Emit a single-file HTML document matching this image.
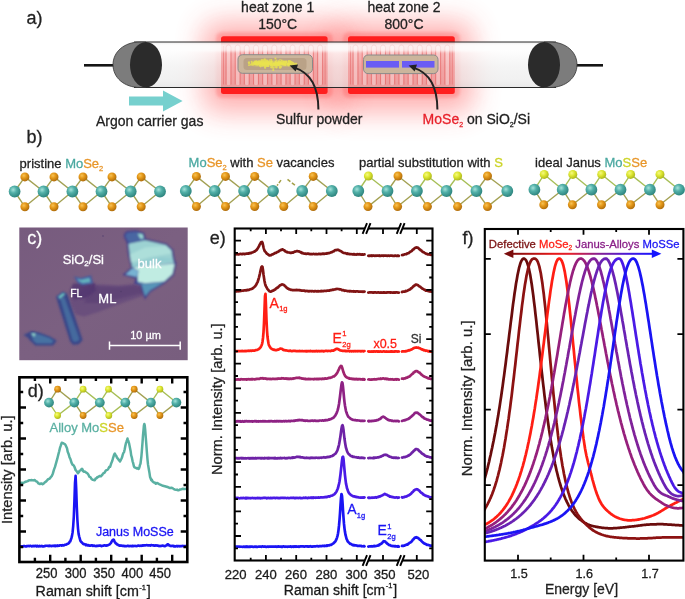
<!DOCTYPE html>
<html><head><meta charset="utf-8"><title>Janus MoSSe figure</title>
<style>
html,body{margin:0;padding:0;background:#fff;}
body{width:685px;height:599px;overflow:hidden;}
svg{display:block;font-family:'Liberation Sans', Arial, sans-serif;}
text{stroke-width:0.28px;}
</style></head><body>
<svg width="685" height="599" viewBox="0 0 685 599">
<defs>
<filter id="glow" x="-60%" y="-90%" width="220%" height="280%"><feGaussianBlur stdDeviation="14"/></filter>
<filter id="b08" x="-20%" y="-20%" width="140%" height="140%"><feGaussianBlur stdDeviation="1.0"/></filter>
<filter id="b1" x="-20%" y="-20%" width="140%" height="140%"><feGaussianBlur stdDeviation="0.8"/></filter>
<filter id="b05" x="-20%" y="-20%" width="140%" height="140%"><feGaussianBlur stdDeviation="0.5"/></filter>
<filter id="b2" x="-20%" y="-20%" width="140%" height="140%"><feGaussianBlur stdDeviation="1.6"/></filter>
<radialGradient id="gMo" cx="0.38" cy="0.35" r="0.7"><stop offset="0" stop-color="#a4e2da"/><stop offset="0.4" stop-color="#52b0a8"/><stop offset="1" stop-color="#2a807a"/></radialGradient>
<radialGradient id="gSe" cx="0.38" cy="0.35" r="0.7"><stop offset="0" stop-color="#f6c256"/><stop offset="0.4" stop-color="#e69a1a"/><stop offset="1" stop-color="#aa680a"/></radialGradient>
<radialGradient id="gS" cx="0.38" cy="0.35" r="0.7"><stop offset="0" stop-color="#f6fa80"/><stop offset="0.45" stop-color="#dce630"/><stop offset="1" stop-color="#a8b21a"/></radialGradient>
<linearGradient id="gTube" x1="0" y1="0" x2="0" y2="1"><stop offset="0" stop-color="#e2e2e2" stop-opacity="0.8"/><stop offset="0.08" stop-color="#f8f8f8" stop-opacity="0.86"/><stop offset="0.25" stop-color="#fbfbfb" stop-opacity="0.78"/><stop offset="0.55" stop-color="#f0f0f0" stop-opacity="0.7"/><stop offset="0.85" stop-color="#eaeaea" stop-opacity="0.68"/><stop offset="1" stop-color="#e0e0e0" stop-opacity="0.7"/></linearGradient>
<linearGradient id="gArrow" x1="0" y1="0" x2="1" y2="0"><stop offset="0" stop-color="#7a0c0c"/><stop offset="0.3" stop-color="#e81818"/><stop offset="0.42" stop-color="#e02030"/><stop offset="0.6" stop-color="#8a2090"/><stop offset="0.85" stop-color="#3a18e8"/><stop offset="1" stop-color="#1414ff"/></linearGradient>
<clipPath id="clipC"><rect x="19.3" y="227.5" width="168.39999999999998" height="132.7"/></clipPath><linearGradient id="gBg" x1="0" y1="0" x2="1" y2="1"><stop offset="0" stop-color="#775b7e"/><stop offset="0.5" stop-color="#7b6081"/><stop offset="1" stop-color="#785e7e"/></linearGradient><clipPath id="clipF"><rect x="484.8" y="229.0" width="198.6" height="331.6"/></clipPath></defs>
<rect width="685" height="599" fill="#fff"/>
<text x="26.6" y="23.7" font-size="18" fill="#222" stroke="#222" text-anchor="start" >a)</text>
<rect x="203" y="22" width="142.60000000000002" height="90" rx="14" fill="#ff3a3a" opacity="0.4" filter="url(#glow)"/>
<rect x="216" y="32" width="116.60000000000002" height="66" rx="6" fill="#ff2a2a" opacity="0.22" filter="url(#b2)"/>
<rect x="330" y="22" width="142.8" height="90" rx="14" fill="#ff3a3a" opacity="0.4" filter="url(#glow)"/>
<rect x="343" y="32" width="116.80000000000001" height="66" rx="6" fill="#ff2a2a" opacity="0.22" filter="url(#b2)"/>
<rect x="221" y="36.2" width="106.6" height="57.8" rx="2.5" fill="#ff1e1e"/>
<rect x="348" y="36.2" width="106.8" height="57.8" rx="2.5" fill="#ff1e1e"/>
<line x1="84" y1="65.3" x2="114" y2="65.3" stroke="#151515" stroke-width="2.6"/>
<line x1="576" y1="65.3" x2="603" y2="65.3" stroke="#151515" stroke-width="2.6"/>
<rect x="140" y="42.0" width="410" height="45.5" fill="url(#gTube)"/>
<rect x="221" y="42.0" width="106.6" height="45.5" fill="#ee8888" opacity="0.3"/>
<line x1="228.5" y1="47.5" x2="228.5" y2="83.5" stroke="#fff" stroke-width="3.6" stroke-linecap="round" opacity="0.3"/>
<path d="M226.0 84.5 V47.5 a2.5 2.5 0 0 1 5 0 V84.5" stroke="#e25858" stroke-width="0.9" fill="none" opacity="0.6"/>
<line x1="237.7" y1="47.5" x2="237.7" y2="83.5" stroke="#fff" stroke-width="3.6" stroke-linecap="round" opacity="0.3"/>
<path d="M235.2 84.5 V47.5 a2.5 2.5 0 0 1 5 0 V84.5" stroke="#e25858" stroke-width="0.9" fill="none" opacity="0.6"/>
<line x1="246.8" y1="47.5" x2="246.8" y2="83.5" stroke="#fff" stroke-width="3.6" stroke-linecap="round" opacity="0.3"/>
<path d="M244.3 84.5 V47.5 a2.5 2.5 0 0 1 5 0 V84.5" stroke="#e25858" stroke-width="0.9" fill="none" opacity="0.6"/>
<line x1="256.0" y1="47.5" x2="256.0" y2="83.5" stroke="#fff" stroke-width="3.6" stroke-linecap="round" opacity="0.3"/>
<path d="M253.5 84.5 V47.5 a2.5 2.5 0 0 1 5 0 V84.5" stroke="#e25858" stroke-width="0.9" fill="none" opacity="0.6"/>
<line x1="265.1" y1="47.5" x2="265.1" y2="83.5" stroke="#fff" stroke-width="3.6" stroke-linecap="round" opacity="0.3"/>
<path d="M262.6 84.5 V47.5 a2.5 2.5 0 0 1 5 0 V84.5" stroke="#e25858" stroke-width="0.9" fill="none" opacity="0.6"/>
<line x1="274.3" y1="47.5" x2="274.3" y2="83.5" stroke="#fff" stroke-width="3.6" stroke-linecap="round" opacity="0.3"/>
<path d="M271.8 84.5 V47.5 a2.5 2.5 0 0 1 5 0 V84.5" stroke="#e25858" stroke-width="0.9" fill="none" opacity="0.6"/>
<line x1="283.5" y1="47.5" x2="283.5" y2="83.5" stroke="#fff" stroke-width="3.6" stroke-linecap="round" opacity="0.3"/>
<path d="M281.0 84.5 V47.5 a2.5 2.5 0 0 1 5 0 V84.5" stroke="#e25858" stroke-width="0.9" fill="none" opacity="0.6"/>
<line x1="292.6" y1="47.5" x2="292.6" y2="83.5" stroke="#fff" stroke-width="3.6" stroke-linecap="round" opacity="0.3"/>
<path d="M290.1 84.5 V47.5 a2.5 2.5 0 0 1 5 0 V84.5" stroke="#e25858" stroke-width="0.9" fill="none" opacity="0.6"/>
<line x1="301.8" y1="47.5" x2="301.8" y2="83.5" stroke="#fff" stroke-width="3.6" stroke-linecap="round" opacity="0.3"/>
<path d="M299.3 84.5 V47.5 a2.5 2.5 0 0 1 5 0 V84.5" stroke="#e25858" stroke-width="0.9" fill="none" opacity="0.6"/>
<line x1="310.9" y1="47.5" x2="310.9" y2="83.5" stroke="#fff" stroke-width="3.6" stroke-linecap="round" opacity="0.3"/>
<path d="M308.4 84.5 V47.5 a2.5 2.5 0 0 1 5 0 V84.5" stroke="#e25858" stroke-width="0.9" fill="none" opacity="0.6"/>
<line x1="320.1" y1="47.5" x2="320.1" y2="83.5" stroke="#fff" stroke-width="3.6" stroke-linecap="round" opacity="0.3"/>
<path d="M317.6 84.5 V47.5 a2.5 2.5 0 0 1 5 0 V84.5" stroke="#e25858" stroke-width="0.9" fill="none" opacity="0.6"/>
<path d="M223.5 46 V84.5 M325.1 46 V84.5" stroke="#e25858" stroke-width="0.9" fill="none" opacity="0.5"/>
<rect x="348" y="42.0" width="106.8" height="45.5" fill="#ee8888" opacity="0.3"/>
<line x1="355.5" y1="47.5" x2="355.5" y2="83.5" stroke="#fff" stroke-width="3.6" stroke-linecap="round" opacity="0.3"/>
<path d="M353.0 84.5 V47.5 a2.5 2.5 0 0 1 5 0 V84.5" stroke="#e25858" stroke-width="0.9" fill="none" opacity="0.6"/>
<line x1="364.7" y1="47.5" x2="364.7" y2="83.5" stroke="#fff" stroke-width="3.6" stroke-linecap="round" opacity="0.3"/>
<path d="M362.2 84.5 V47.5 a2.5 2.5 0 0 1 5 0 V84.5" stroke="#e25858" stroke-width="0.9" fill="none" opacity="0.6"/>
<line x1="373.9" y1="47.5" x2="373.9" y2="83.5" stroke="#fff" stroke-width="3.6" stroke-linecap="round" opacity="0.3"/>
<path d="M371.4 84.5 V47.5 a2.5 2.5 0 0 1 5 0 V84.5" stroke="#e25858" stroke-width="0.9" fill="none" opacity="0.6"/>
<line x1="383.0" y1="47.5" x2="383.0" y2="83.5" stroke="#fff" stroke-width="3.6" stroke-linecap="round" opacity="0.3"/>
<path d="M380.5 84.5 V47.5 a2.5 2.5 0 0 1 5 0 V84.5" stroke="#e25858" stroke-width="0.9" fill="none" opacity="0.6"/>
<line x1="392.2" y1="47.5" x2="392.2" y2="83.5" stroke="#fff" stroke-width="3.6" stroke-linecap="round" opacity="0.3"/>
<path d="M389.7 84.5 V47.5 a2.5 2.5 0 0 1 5 0 V84.5" stroke="#e25858" stroke-width="0.9" fill="none" opacity="0.6"/>
<line x1="401.4" y1="47.5" x2="401.4" y2="83.5" stroke="#fff" stroke-width="3.6" stroke-linecap="round" opacity="0.3"/>
<path d="M398.9 84.5 V47.5 a2.5 2.5 0 0 1 5 0 V84.5" stroke="#e25858" stroke-width="0.9" fill="none" opacity="0.6"/>
<line x1="410.6" y1="47.5" x2="410.6" y2="83.5" stroke="#fff" stroke-width="3.6" stroke-linecap="round" opacity="0.3"/>
<path d="M408.1 84.5 V47.5 a2.5 2.5 0 0 1 5 0 V84.5" stroke="#e25858" stroke-width="0.9" fill="none" opacity="0.6"/>
<line x1="419.8" y1="47.5" x2="419.8" y2="83.5" stroke="#fff" stroke-width="3.6" stroke-linecap="round" opacity="0.3"/>
<path d="M417.3 84.5 V47.5 a2.5 2.5 0 0 1 5 0 V84.5" stroke="#e25858" stroke-width="0.9" fill="none" opacity="0.6"/>
<line x1="428.9" y1="47.5" x2="428.9" y2="83.5" stroke="#fff" stroke-width="3.6" stroke-linecap="round" opacity="0.3"/>
<path d="M426.4 84.5 V47.5 a2.5 2.5 0 0 1 5 0 V84.5" stroke="#e25858" stroke-width="0.9" fill="none" opacity="0.6"/>
<line x1="438.1" y1="47.5" x2="438.1" y2="83.5" stroke="#fff" stroke-width="3.6" stroke-linecap="round" opacity="0.3"/>
<path d="M435.6 84.5 V47.5 a2.5 2.5 0 0 1 5 0 V84.5" stroke="#e25858" stroke-width="0.9" fill="none" opacity="0.6"/>
<line x1="447.3" y1="47.5" x2="447.3" y2="83.5" stroke="#fff" stroke-width="3.6" stroke-linecap="round" opacity="0.3"/>
<path d="M444.8 84.5 V47.5 a2.5 2.5 0 0 1 5 0 V84.5" stroke="#e25858" stroke-width="0.9" fill="none" opacity="0.6"/>
<path d="M350.5 46 V84.5 M452.3 46 V84.5" stroke="#e25858" stroke-width="0.9" fill="none" opacity="0.5"/>
<rect x="150" y="43.4" width="390" height="8.2" fill="#fff" opacity="0.72" filter="url(#b1)"/>
<line x1="134" y1="42.0" x2="556" y2="42.0" stroke="#2a2a2a" stroke-width="1"/>
<line x1="134" y1="87.5" x2="556" y2="87.5" stroke="#2a2a2a" stroke-width="1"/>
<path d="M146 42.0 L140 42.0 C124 42.0 113 52 113 64.7 C113 77.5 124 87.5 140 87.5 L146 87.5 Z" fill="#7c7c7c" stroke="#333" stroke-width="0.8"/>
<ellipse cx="146" cy="64.7" rx="16" ry="22.8" fill="#2b2b2b"/>
<path d="M544 42.0 L550 42.0 C566 42.0 577 52 577 64.7 C577 77.5 566 87.5 550 87.5 L544 87.5 Z" fill="#7c7c7c" stroke="#333" stroke-width="0.8"/>
<ellipse cx="544" cy="64.7" rx="16" ry="22.8" fill="#2b2b2b"/>
<rect x="238" y="54.7" width="74.5" height="18.6" rx="4.5" fill="#cbb59c" stroke="#8a8a8a" stroke-width="1"/>
<rect x="243.5" y="58" width="63" height="12" rx="3.5" fill="#b59d82" opacity="0.8"/>
<g fill="#f2ee44" opacity="0.7" filter="url(#b05)"><circle cx="260.4" cy="64.8" r="0.7"/><circle cx="278.7" cy="65.1" r="1.2"/><circle cx="285.2" cy="64.2" r="1.1"/><circle cx="274.4" cy="65.8" r="0.8"/><circle cx="257.6" cy="64.3" r="1.2"/><circle cx="276.7" cy="65.1" r="1.2"/><circle cx="258.5" cy="61.4" r="0.8"/><circle cx="259.5" cy="62.0" r="1.2"/><circle cx="288.7" cy="65.0" r="1.1"/><circle cx="279.8" cy="62.6" r="0.9"/><circle cx="253.9" cy="63.6" r="1.3"/><circle cx="281.2" cy="62.2" r="0.8"/><circle cx="290.0" cy="61.4" r="1.2"/><circle cx="262.0" cy="62.0" r="1.0"/><circle cx="269.0" cy="63.5" r="0.7"/><circle cx="265.2" cy="66.4" r="0.6"/><circle cx="252.0" cy="63.0" r="1.0"/><circle cx="265.6" cy="62.1" r="1.3"/><circle cx="258.6" cy="63.8" r="0.9"/><circle cx="276.6" cy="65.9" r="0.8"/><circle cx="265.7" cy="63.6" r="1.0"/><circle cx="262.3" cy="64.2" r="0.6"/><circle cx="260.1" cy="63.2" r="1.1"/><circle cx="265.9" cy="62.8" r="0.8"/><circle cx="257.8" cy="63.2" r="1.1"/><circle cx="272.8" cy="67.3" r="1.1"/><circle cx="292.2" cy="61.9" r="0.6"/><circle cx="265.1" cy="67.7" r="1.1"/><circle cx="268.1" cy="65.9" r="1.2"/><circle cx="266.7" cy="63.3" r="0.9"/><circle cx="256.0" cy="64.4" r="0.9"/><circle cx="281.6" cy="63.3" r="0.6"/><circle cx="252.0" cy="64.5" r="0.9"/><circle cx="288.8" cy="63.5" r="1.3"/><circle cx="268.7" cy="64.4" r="0.7"/><circle cx="275.5" cy="63.8" r="0.7"/><circle cx="279.8" cy="63.9" r="0.9"/><circle cx="274.6" cy="63.6" r="0.7"/><circle cx="273.3" cy="70.0" r="1.1"/><circle cx="249.0" cy="65.2" r="0.9"/><circle cx="260.6" cy="63.3" r="0.9"/><circle cx="273.6" cy="63.6" r="1.2"/><circle cx="271.9" cy="67.6" r="0.6"/><circle cx="271.8" cy="65.0" r="0.7"/><circle cx="260.2" cy="64.1" r="0.6"/><circle cx="267.6" cy="65.6" r="1.3"/><circle cx="267.7" cy="62.6" r="1.2"/><circle cx="261.0" cy="61.5" r="1.1"/><circle cx="271.7" cy="64.7" r="1.2"/><circle cx="276.2" cy="66.8" r="0.8"/><circle cx="278.9" cy="61.4" r="1.2"/><circle cx="259.4" cy="61.6" r="1.0"/><circle cx="278.8" cy="63.1" r="1.2"/><circle cx="264.0" cy="64.2" r="1.3"/><circle cx="292.3" cy="63.5" r="1.1"/><circle cx="294.6" cy="64.2" r="0.7"/><circle cx="292.6" cy="63.4" r="0.7"/><circle cx="268.6" cy="62.1" r="1.1"/><circle cx="290.8" cy="62.5" r="0.8"/><circle cx="296.0" cy="63.6" r="0.6"/><circle cx="288.6" cy="65.3" r="1.1"/><circle cx="285.3" cy="64.8" r="1.2"/><circle cx="258.9" cy="62.4" r="1.1"/><circle cx="260.7" cy="66.3" r="1.1"/><circle cx="270.7" cy="63.2" r="0.6"/><circle cx="271.6" cy="61.8" r="1.2"/><circle cx="276.8" cy="62.5" r="0.7"/><circle cx="259.8" cy="65.4" r="1.0"/><circle cx="250.5" cy="64.6" r="0.7"/><circle cx="254.4" cy="62.5" r="1.2"/><circle cx="263.7" cy="63.2" r="0.8"/><circle cx="249.0" cy="63.8" r="0.7"/><circle cx="255.0" cy="61.7" r="1.0"/><circle cx="256.2" cy="61.3" r="1.1"/><circle cx="252.9" cy="64.5" r="1.2"/><circle cx="275.1" cy="65.0" r="1.2"/><circle cx="268.6" cy="63.9" r="1.2"/><circle cx="265.6" cy="64.0" r="0.9"/><circle cx="264.9" cy="64.4" r="1.0"/><circle cx="286.3" cy="62.4" r="0.6"/><circle cx="263.7" cy="61.9" r="1.1"/><circle cx="268.5" cy="62.9" r="0.8"/><circle cx="287.3" cy="63.7" r="0.8"/><circle cx="275.4" cy="58.5" r="1.0"/><circle cx="279.8" cy="62.5" r="1.2"/><circle cx="265.9" cy="60.0" r="0.8"/><circle cx="288.2" cy="64.2" r="1.2"/><circle cx="263.0" cy="62.5" r="0.7"/><circle cx="283.9" cy="62.2" r="0.7"/><circle cx="284.3" cy="64.3" r="1.2"/><circle cx="257.8" cy="64.0" r="1.2"/><circle cx="262.0" cy="65.0" r="0.8"/><circle cx="277.3" cy="65.0" r="1.3"/><circle cx="278.2" cy="64.6" r="0.8"/><circle cx="263.2" cy="65.6" r="0.6"/><circle cx="296.0" cy="63.9" r="1.2"/><circle cx="285.2" cy="64.8" r="0.7"/><circle cx="249.0" cy="62.6" r="1.0"/><circle cx="291.3" cy="62.9" r="1.1"/><circle cx="277.4" cy="63.4" r="1.1"/><circle cx="279.7" cy="63.5" r="1.2"/><circle cx="256.7" cy="62.6" r="0.9"/><circle cx="276.4" cy="67.3" r="1.2"/><circle cx="269.3" cy="62.1" r="0.8"/><circle cx="264.4" cy="59.8" r="1.2"/><circle cx="249.0" cy="62.8" r="1.2"/><circle cx="262.5" cy="64.5" r="0.9"/><circle cx="279.0" cy="63.7" r="1.0"/><circle cx="280.5" cy="62.5" r="1.3"/><circle cx="265.1" cy="62.9" r="0.6"/><circle cx="292.8" cy="63.2" r="1.3"/><circle cx="285.1" cy="62.7" r="0.8"/><circle cx="254.0" cy="63.6" r="1.2"/><circle cx="279.8" cy="65.8" r="0.7"/><circle cx="260.5" cy="62.0" r="0.8"/><circle cx="278.2" cy="63.3" r="1.2"/><circle cx="280.0" cy="59.8" r="0.8"/><circle cx="263.9" cy="62.7" r="0.7"/><circle cx="251.4" cy="63.5" r="0.8"/><circle cx="274.8" cy="64.0" r="1.3"/><circle cx="262.7" cy="65.4" r="1.1"/><circle cx="261.1" cy="61.6" r="1.2"/><circle cx="281.7" cy="60.5" r="1.0"/><circle cx="265.9" cy="61.1" r="1.0"/><circle cx="272.1" cy="65.7" r="0.9"/><circle cx="289.5" cy="64.3" r="1.2"/><circle cx="261.3" cy="64.0" r="0.9"/><circle cx="263.0" cy="60.8" r="0.8"/><circle cx="267.0" cy="63.2" r="1.2"/><circle cx="273.2" cy="68.3" r="0.7"/><circle cx="256.9" cy="64.0" r="1.2"/><circle cx="275.6" cy="62.5" r="1.0"/><circle cx="271.0" cy="63.4" r="1.2"/><circle cx="265.1" cy="66.1" r="1.2"/><circle cx="291.2" cy="63.6" r="0.9"/><circle cx="284.0" cy="61.4" r="1.0"/><circle cx="254.7" cy="61.6" r="0.8"/><circle cx="255.5" cy="62.0" r="1.0"/><circle cx="251.6" cy="61.7" r="1.0"/><circle cx="271.2" cy="67.3" r="1.1"/><circle cx="263.5" cy="65.3" r="0.8"/><circle cx="262.6" cy="65.2" r="1.2"/><circle cx="288.9" cy="61.4" r="1.1"/><circle cx="267.3" cy="61.4" r="1.0"/><circle cx="293.4" cy="63.3" r="1.1"/><circle cx="275.6" cy="61.4" r="1.0"/><circle cx="261.0" cy="63.6" r="0.7"/><circle cx="289.3" cy="64.5" r="1.2"/><circle cx="280.7" cy="66.8" r="1.2"/><circle cx="292.4" cy="63.6" r="1.2"/><circle cx="277.4" cy="63.6" r="1.0"/><circle cx="289.8" cy="63.8" r="0.6"/><circle cx="271.0" cy="64.7" r="1.2"/><circle cx="280.2" cy="63.6" r="0.8"/><circle cx="267.1" cy="60.5" r="1.0"/><circle cx="283.1" cy="63.9" r="1.3"/><circle cx="283.2" cy="64.4" r="1.1"/><circle cx="265.0" cy="64.2" r="0.9"/><circle cx="257.7" cy="61.6" r="0.6"/><circle cx="291.3" cy="61.9" r="0.8"/><circle cx="283.3" cy="61.9" r="1.2"/><circle cx="280.5" cy="62.7" r="0.8"/><circle cx="272.5" cy="66.0" r="0.6"/><circle cx="271.2" cy="65.1" r="1.2"/><circle cx="255.8" cy="63.6" r="1.3"/><circle cx="267.3" cy="64.0" r="0.7"/><circle cx="291.1" cy="64.0" r="1.1"/><circle cx="282.0" cy="62.5" r="0.7"/><circle cx="265.0" cy="58.9" r="0.7"/><circle cx="281.2" cy="63.7" r="0.7"/><circle cx="292.7" cy="65.7" r="0.8"/><circle cx="257.3" cy="62.8" r="1.2"/><circle cx="253.3" cy="64.0" r="1.1"/><circle cx="266.3" cy="66.4" r="0.7"/><circle cx="259.1" cy="64.0" r="0.6"/><circle cx="267.6" cy="65.0" r="1.3"/><circle cx="276.7" cy="60.2" r="0.7"/><circle cx="296.0" cy="64.1" r="1.3"/><circle cx="280.1" cy="67.5" r="1.3"/><circle cx="294.3" cy="64.4" r="1.1"/><circle cx="279.4" cy="64.0" r="0.7"/><circle cx="267.7" cy="64.9" r="1.0"/><circle cx="273.8" cy="65.2" r="0.9"/><circle cx="271.2" cy="60.0" r="1.1"/><circle cx="251.7" cy="64.0" r="0.8"/><circle cx="278.3" cy="62.6" r="1.0"/><circle cx="265.1" cy="63.1" r="0.9"/><circle cx="265.1" cy="59.8" r="0.7"/><circle cx="265.3" cy="64.7" r="0.6"/><circle cx="271.1" cy="64.9" r="1.1"/><circle cx="291.3" cy="65.6" r="0.9"/><circle cx="281.1" cy="63.9" r="1.1"/><circle cx="267.3" cy="64.7" r="0.9"/><circle cx="280.2" cy="62.5" r="0.7"/><circle cx="251.3" cy="64.5" r="1.1"/><circle cx="270.7" cy="61.7" r="0.7"/><circle cx="263.0" cy="60.5" r="0.9"/><circle cx="263.6" cy="65.5" r="0.7"/><circle cx="277.1" cy="63.3" r="1.0"/><circle cx="257.7" cy="62.4" r="0.6"/><circle cx="269.2" cy="63.9" r="0.6"/><circle cx="266.3" cy="64.2" r="0.9"/><circle cx="263.8" cy="64.8" r="1.0"/><circle cx="276.9" cy="65.0" r="1.1"/><circle cx="274.0" cy="67.7" r="0.8"/><circle cx="265.4" cy="62.6" r="1.0"/><circle cx="266.1" cy="65.4" r="1.2"/><circle cx="276.1" cy="65.5" r="0.7"/><circle cx="288.9" cy="60.6" r="0.7"/><circle cx="253.5" cy="63.2" r="0.6"/><circle cx="286.1" cy="61.8" r="1.2"/><circle cx="294.9" cy="64.7" r="1.1"/><circle cx="276.6" cy="62.3" r="0.6"/><circle cx="269.7" cy="60.0" r="0.7"/><circle cx="270.8" cy="64.2" r="0.8"/><circle cx="261.9" cy="60.1" r="1.2"/><circle cx="262.7" cy="63.5" r="1.0"/><circle cx="272.4" cy="65.8" r="0.7"/><circle cx="269.1" cy="60.9" r="0.7"/><circle cx="250.4" cy="64.7" r="0.8"/></g>
<rect x="253" y="61" width="38" height="5" rx="2.5" fill="#f0ec48" opacity="0.6" filter="url(#b1)"/>
<rect x="363.5" y="55" width="74.5" height="18.6" rx="4.5" fill="#cbb59c" stroke="#8a8a8a" stroke-width="1"/>
<rect x="366" y="61" width="33" height="6.6" fill="#6a5cf4"/>
<rect x="402" y="61" width="32.5" height="6.6" fill="#6a5cf4"/>
<path d="M318.4 109.6 C318.4 92 314 74 294.5 67.6" fill="none" stroke="#222" stroke-width="2"/>
<path d="M289.6 65.6 L298 64.6 L295.6 71.6 Z" fill="#222"/>
<path d="M437.4 109.6 C437.4 92 433 74 413.5 67.6" fill="none" stroke="#222" stroke-width="2"/>
<path d="M408.6 65.6 L417 64.6 L414.6 71.6 Z" fill="#222"/>
<path d="M129 96.5 L163 96.5 L163 90.6 L182.6 101 L163 111.4 L163 105.6 L129 105.6 Z" fill="#76d0ce"/>
<text x="277.7" y="12.4" font-size="14" fill="#222" stroke="#222" text-anchor="middle" >heat zone 1</text>
<text x="277.7" y="28.6" font-size="14" fill="#222" stroke="#222" text-anchor="middle" >150°C</text>
<text x="404.0" y="12.4" font-size="14" fill="#222" stroke="#222" text-anchor="middle" >heat zone 2</text>
<text x="404.0" y="28.6" font-size="14" fill="#222" stroke="#222" text-anchor="middle" >800°C</text>
<text x="96.0" y="125.6" font-size="14" fill="#222" stroke="#222" text-anchor="start" >Argon carrier gas</text>
<text x="276.0" y="124.2" font-size="14" fill="#222" stroke="#222" text-anchor="start" >Sulfur powder</text>
<text x="422.6" y="124.2" font-size="14" fill="#222" stroke="#222" text-anchor="start" ><tspan fill="#e8202a" stroke="#e8202a">MoSe</tspan><tspan fill="#e8202a" stroke="#e8202a" font-size="7" dy="2.8">2</tspan><tspan dy="-2.8"> on SiO</tspan><tspan font-size="7" dy="2.8">2</tspan><tspan dy="-2.8">/Si</tspan></text>
<text x="26.6" y="142.8" font-size="18" fill="#222" stroke="#222" text-anchor="start" >b)</text>
<line x1="14.6" y1="191.5" x2="24.9" y2="176.9" stroke="#a2a052" stroke-width="1.35"/><line x1="43.5" y1="191.5" x2="24.9" y2="176.9" stroke="#a2a052" stroke-width="1.35"/><line x1="43.5" y1="191.5" x2="54.0" y2="176.9" stroke="#a2a052" stroke-width="1.35"/><line x1="72.4" y1="191.5" x2="54.0" y2="176.9" stroke="#a2a052" stroke-width="1.35"/><line x1="72.4" y1="191.5" x2="83.0" y2="176.9" stroke="#a2a052" stroke-width="1.35"/><line x1="101.5" y1="191.5" x2="83.0" y2="176.9" stroke="#a2a052" stroke-width="1.35"/><line x1="101.5" y1="191.5" x2="112.0" y2="176.9" stroke="#a2a052" stroke-width="1.35"/><line x1="130.7" y1="191.5" x2="112.0" y2="176.9" stroke="#a2a052" stroke-width="1.35"/><line x1="130.7" y1="191.5" x2="141.2" y2="176.9" stroke="#a2a052" stroke-width="1.35"/><line x1="160.0" y1="191.5" x2="141.2" y2="176.9" stroke="#a2a052" stroke-width="1.35"/><line x1="14.6" y1="191.5" x2="24.9" y2="206.8" stroke="#a2a052" stroke-width="1.35"/><line x1="43.5" y1="191.5" x2="24.9" y2="206.8" stroke="#a2a052" stroke-width="1.35"/><line x1="43.5" y1="191.5" x2="54.0" y2="206.8" stroke="#a2a052" stroke-width="1.35"/><line x1="72.4" y1="191.5" x2="54.0" y2="206.8" stroke="#a2a052" stroke-width="1.35"/><line x1="72.4" y1="191.5" x2="83.0" y2="206.8" stroke="#a2a052" stroke-width="1.35"/><line x1="101.5" y1="191.5" x2="83.0" y2="206.8" stroke="#a2a052" stroke-width="1.35"/><line x1="101.5" y1="191.5" x2="112.0" y2="206.8" stroke="#a2a052" stroke-width="1.35"/><line x1="130.7" y1="191.5" x2="112.0" y2="206.8" stroke="#a2a052" stroke-width="1.35"/><line x1="130.7" y1="191.5" x2="141.2" y2="206.8" stroke="#a2a052" stroke-width="1.35"/><line x1="160.0" y1="191.5" x2="141.2" y2="206.8" stroke="#a2a052" stroke-width="1.35"/>
<circle cx="24.9" cy="206.8" r="4.5" fill="url(#gSe)"/>
<circle cx="54.0" cy="206.8" r="4.5" fill="url(#gSe)"/>
<circle cx="83.0" cy="206.8" r="4.5" fill="url(#gSe)"/>
<circle cx="112.0" cy="206.8" r="4.5" fill="url(#gSe)"/>
<circle cx="141.2" cy="206.8" r="4.5" fill="url(#gSe)"/>
<circle cx="24.9" cy="176.9" r="4.5" fill="url(#gSe)"/>
<circle cx="54.0" cy="176.9" r="4.5" fill="url(#gSe)"/>
<circle cx="83.0" cy="176.9" r="4.5" fill="url(#gSe)"/>
<circle cx="112.0" cy="176.9" r="4.5" fill="url(#gSe)"/>
<circle cx="141.2" cy="176.9" r="4.5" fill="url(#gSe)"/>
<circle cx="14.6" cy="191.5" r="5.9" fill="url(#gMo)"/>
<circle cx="43.5" cy="191.5" r="5.9" fill="url(#gMo)"/>
<circle cx="72.4" cy="191.5" r="5.9" fill="url(#gMo)"/>
<circle cx="101.5" cy="191.5" r="5.9" fill="url(#gMo)"/>
<circle cx="130.7" cy="191.5" r="5.9" fill="url(#gMo)"/>
<circle cx="160.0" cy="191.5" r="5.9" fill="url(#gMo)"/>
<text x="19.6" y="168.2" font-size="13" fill="#222" stroke="#222" text-anchor="start" >pristine <tspan fill="#4aa8a0" stroke="#4aa8a0">Mo</tspan><tspan fill="#e8962a" stroke="#e8962a">Se</tspan><tspan fill="#e8962a" stroke="#e8962a" font-size="7.5" dy="2.5">2</tspan></text>
<line x1="185.8" y1="191" x2="196.4" y2="176.4" stroke="#a2a052" stroke-width="1.35"/><line x1="214.7" y1="191" x2="196.4" y2="176.4" stroke="#a2a052" stroke-width="1.35"/><line x1="214.7" y1="191" x2="225.5" y2="176.4" stroke="#a2a052" stroke-width="1.35"/><line x1="244.1" y1="191" x2="225.5" y2="176.4" stroke="#a2a052" stroke-width="1.35"/><line x1="244.1" y1="191" x2="254.7" y2="176.4" stroke="#a2a052" stroke-width="1.35"/><line x1="273.0" y1="191" x2="254.7" y2="176.4" stroke="#a2a052" stroke-width="1.35"/><line x1="277.0" y1="185.6" x2="278.1" y2="184.2" stroke="#a4a048" stroke-width="1.5"/><line x1="278.9" y1="183.0" x2="281.0" y2="180.1" stroke="#a4a048" stroke-width="1.5"/><line x1="294.9" y1="185.2" x2="291.9" y2="182.9" stroke="#a4a048" stroke-width="1.5"/><line x1="290.4" y1="181.7" x2="287.5" y2="179.3" stroke="#a4a048" stroke-width="1.5"/><line x1="302.2" y1="191" x2="313.2" y2="176.4" stroke="#a2a052" stroke-width="1.35"/><line x1="331.8" y1="191" x2="313.2" y2="176.4" stroke="#a2a052" stroke-width="1.35"/><line x1="185.8" y1="191" x2="196.4" y2="206.5" stroke="#a2a052" stroke-width="1.35"/><line x1="214.7" y1="191" x2="196.4" y2="206.5" stroke="#a2a052" stroke-width="1.35"/><line x1="214.7" y1="191" x2="225.5" y2="206.5" stroke="#a2a052" stroke-width="1.35"/><line x1="244.1" y1="191" x2="225.5" y2="206.5" stroke="#a2a052" stroke-width="1.35"/><line x1="244.1" y1="191" x2="254.7" y2="206.5" stroke="#a2a052" stroke-width="1.35"/><line x1="273.0" y1="191" x2="254.7" y2="206.5" stroke="#a2a052" stroke-width="1.35"/><line x1="273.0" y1="191" x2="283.8" y2="206.5" stroke="#a2a052" stroke-width="1.35"/><line x1="302.2" y1="191" x2="283.8" y2="206.5" stroke="#a2a052" stroke-width="1.35"/><line x1="302.2" y1="191" x2="313.2" y2="206.5" stroke="#a2a052" stroke-width="1.35"/><line x1="331.8" y1="191" x2="313.2" y2="206.5" stroke="#a2a052" stroke-width="1.35"/>
<circle cx="196.4" cy="206.5" r="4.5" fill="url(#gSe)"/>
<circle cx="225.5" cy="206.5" r="4.5" fill="url(#gSe)"/>
<circle cx="254.7" cy="206.5" r="4.5" fill="url(#gSe)"/>
<circle cx="283.8" cy="206.5" r="4.5" fill="url(#gSe)"/>
<circle cx="313.2" cy="206.5" r="4.5" fill="url(#gSe)"/>
<circle cx="196.4" cy="176.4" r="4.5" fill="url(#gSe)"/>
<circle cx="225.5" cy="176.4" r="4.5" fill="url(#gSe)"/>
<circle cx="254.7" cy="176.4" r="4.5" fill="url(#gSe)"/>
<circle cx="313.2" cy="176.4" r="4.5" fill="url(#gSe)"/>
<circle cx="185.8" cy="191.0" r="5.9" fill="url(#gMo)"/>
<circle cx="214.7" cy="191.0" r="5.9" fill="url(#gMo)"/>
<circle cx="244.1" cy="191.0" r="5.9" fill="url(#gMo)"/>
<circle cx="273.0" cy="191.0" r="5.9" fill="url(#gMo)"/>
<circle cx="302.2" cy="191.0" r="5.9" fill="url(#gMo)"/>
<circle cx="331.8" cy="191.0" r="5.9" fill="url(#gMo)"/>
<text x="188.6" y="167.0" font-size="13" fill="#222" stroke="#222" text-anchor="start" ><tspan fill="#4aa8a0" stroke="#4aa8a0">Mo</tspan><tspan fill="#e8962a" stroke="#e8962a">Se</tspan><tspan fill="#e8962a" stroke="#e8962a" font-size="7.5" dy="2.5">2</tspan><tspan dy="-2.5"> with </tspan><tspan fill="#e8962a" stroke="#e8962a">Se</tspan> vacancies</text>
<line x1="358.3" y1="191" x2="368.4" y2="176.0" stroke="#a6be56" stroke-width="1.35"/><line x1="387.5" y1="191" x2="368.4" y2="176.0" stroke="#a6be56" stroke-width="1.35"/><line x1="387.5" y1="191" x2="398.0" y2="176.0" stroke="#a2a052" stroke-width="1.35"/><line x1="416.9" y1="191" x2="398.0" y2="176.0" stroke="#a2a052" stroke-width="1.35"/><line x1="416.9" y1="191" x2="427.4" y2="176.0" stroke="#a6be56" stroke-width="1.35"/><line x1="446.5" y1="191" x2="427.4" y2="176.0" stroke="#a6be56" stroke-width="1.35"/><line x1="446.5" y1="191" x2="457.6" y2="176.0" stroke="#a6be56" stroke-width="1.35"/><line x1="476.4" y1="191" x2="457.6" y2="176.0" stroke="#a6be56" stroke-width="1.35"/><line x1="476.4" y1="191" x2="487.5" y2="176.0" stroke="#a2a052" stroke-width="1.35"/><line x1="507.3" y1="191" x2="487.5" y2="176.0" stroke="#a2a052" stroke-width="1.35"/><line x1="358.3" y1="191" x2="368.0" y2="206.6" stroke="#a2a052" stroke-width="1.35"/><line x1="387.5" y1="191" x2="368.0" y2="206.6" stroke="#a2a052" stroke-width="1.35"/><line x1="387.5" y1="191" x2="397.6" y2="206.6" stroke="#a2a052" stroke-width="1.35"/><line x1="416.9" y1="191" x2="397.6" y2="206.6" stroke="#a2a052" stroke-width="1.35"/><line x1="416.9" y1="191" x2="427.4" y2="206.6" stroke="#a2a052" stroke-width="1.35"/><line x1="446.5" y1="191" x2="427.4" y2="206.6" stroke="#a2a052" stroke-width="1.35"/><line x1="446.5" y1="191" x2="457.6" y2="206.6" stroke="#a2a052" stroke-width="1.35"/><line x1="476.4" y1="191" x2="457.6" y2="206.6" stroke="#a2a052" stroke-width="1.35"/><line x1="476.4" y1="191" x2="487.5" y2="206.6" stroke="#a2a052" stroke-width="1.35"/><line x1="507.3" y1="191" x2="487.5" y2="206.6" stroke="#a2a052" stroke-width="1.35"/>
<circle cx="368.0" cy="206.6" r="4.5" fill="url(#gSe)"/>
<circle cx="397.6" cy="206.6" r="4.5" fill="url(#gSe)"/>
<circle cx="427.4" cy="206.6" r="4.5" fill="url(#gSe)"/>
<circle cx="457.6" cy="206.6" r="4.5" fill="url(#gSe)"/>
<circle cx="487.5" cy="206.6" r="4.5" fill="url(#gSe)"/>
<circle cx="368.4" cy="176.0" r="4.5" fill="url(#gS)"/>
<circle cx="398.0" cy="176.0" r="4.5" fill="url(#gSe)"/>
<circle cx="427.4" cy="176.0" r="4.5" fill="url(#gS)"/>
<circle cx="457.6" cy="176.0" r="4.5" fill="url(#gS)"/>
<circle cx="487.5" cy="176.0" r="4.5" fill="url(#gSe)"/>
<circle cx="358.3" cy="191.0" r="5.9" fill="url(#gMo)"/>
<circle cx="387.5" cy="191.0" r="5.9" fill="url(#gMo)"/>
<circle cx="416.9" cy="191.0" r="5.9" fill="url(#gMo)"/>
<circle cx="446.5" cy="191.0" r="5.9" fill="url(#gMo)"/>
<circle cx="476.4" cy="191.0" r="5.9" fill="url(#gMo)"/>
<circle cx="507.3" cy="191.0" r="5.9" fill="url(#gMo)"/>
<text x="359.0" y="167.0" font-size="13" fill="#222" stroke="#222" text-anchor="start" >partial substitution with <tspan fill="#ccd428" stroke="#ccd428">S</tspan></text>
<line x1="534.4" y1="189.7" x2="544.2" y2="174.4" stroke="#a6be56" stroke-width="1.35"/><line x1="562.7" y1="189.7" x2="544.2" y2="174.4" stroke="#a6be56" stroke-width="1.35"/><line x1="562.7" y1="189.7" x2="572.8" y2="174.4" stroke="#a6be56" stroke-width="1.35"/><line x1="591.4" y1="189.7" x2="572.8" y2="174.4" stroke="#a6be56" stroke-width="1.35"/><line x1="591.4" y1="189.7" x2="601.7" y2="174.4" stroke="#a6be56" stroke-width="1.35"/><line x1="620.5" y1="189.7" x2="601.7" y2="174.4" stroke="#a6be56" stroke-width="1.35"/><line x1="620.5" y1="189.7" x2="630.6" y2="174.4" stroke="#a6be56" stroke-width="1.35"/><line x1="649.9" y1="189.7" x2="630.6" y2="174.4" stroke="#a6be56" stroke-width="1.35"/><line x1="649.9" y1="189.7" x2="660.0" y2="174.4" stroke="#a6be56" stroke-width="1.35"/><line x1="679.0" y1="189.7" x2="660.0" y2="174.4" stroke="#a6be56" stroke-width="1.35"/><line x1="534.4" y1="189.7" x2="543.8" y2="204.8" stroke="#a2a052" stroke-width="1.35"/><line x1="562.7" y1="189.7" x2="543.8" y2="204.8" stroke="#a2a052" stroke-width="1.35"/><line x1="562.7" y1="189.7" x2="572.4" y2="204.8" stroke="#a2a052" stroke-width="1.35"/><line x1="591.4" y1="189.7" x2="572.4" y2="204.8" stroke="#a2a052" stroke-width="1.35"/><line x1="591.4" y1="189.7" x2="601.5" y2="204.8" stroke="#a2a052" stroke-width="1.35"/><line x1="620.5" y1="189.7" x2="601.5" y2="204.8" stroke="#a2a052" stroke-width="1.35"/><line x1="620.5" y1="189.7" x2="630.6" y2="204.8" stroke="#a2a052" stroke-width="1.35"/><line x1="649.9" y1="189.7" x2="630.6" y2="204.8" stroke="#a2a052" stroke-width="1.35"/><line x1="649.9" y1="189.7" x2="660.0" y2="204.8" stroke="#a2a052" stroke-width="1.35"/><line x1="679.0" y1="189.7" x2="660.0" y2="204.8" stroke="#a2a052" stroke-width="1.35"/>
<circle cx="543.8" cy="204.8" r="4.5" fill="url(#gSe)"/>
<circle cx="572.4" cy="204.8" r="4.5" fill="url(#gSe)"/>
<circle cx="601.5" cy="204.8" r="4.5" fill="url(#gSe)"/>
<circle cx="630.6" cy="204.8" r="4.5" fill="url(#gSe)"/>
<circle cx="660.0" cy="204.8" r="4.5" fill="url(#gSe)"/>
<circle cx="544.2" cy="174.4" r="4.5" fill="url(#gS)"/>
<circle cx="572.8" cy="174.4" r="4.5" fill="url(#gS)"/>
<circle cx="601.7" cy="174.4" r="4.5" fill="url(#gS)"/>
<circle cx="630.6" cy="174.4" r="4.5" fill="url(#gS)"/>
<circle cx="660.0" cy="174.4" r="4.5" fill="url(#gS)"/>
<circle cx="534.4" cy="189.7" r="5.9" fill="url(#gMo)"/>
<circle cx="562.7" cy="189.7" r="5.9" fill="url(#gMo)"/>
<circle cx="591.4" cy="189.7" r="5.9" fill="url(#gMo)"/>
<circle cx="620.5" cy="189.7" r="5.9" fill="url(#gMo)"/>
<circle cx="649.9" cy="189.7" r="5.9" fill="url(#gMo)"/>
<circle cx="679.0" cy="189.7" r="5.9" fill="url(#gMo)"/>
<text x="535.1" y="166.6" font-size="13" fill="#222" stroke="#222" text-anchor="start" >ideal Janus <tspan fill="#4aa8a0" stroke="#4aa8a0">Mo</tspan><tspan fill="#ccd428" stroke="#ccd428">S</tspan><tspan fill="#e8962a" stroke="#e8962a">Se</tspan></text>
<rect x="19.3" y="227.5" width="168.39999999999998" height="132.7" fill="url(#gBg)"/>
<g clip-path="url(#clipC)">
<path d="M90 284 L119 285.4 L134 284 L144 286.5 L144 295.5 L118 304.4 L99 311.7 L84 316.4 L76 314.5 L72 306 L70 298 Z" fill="#61447a" opacity="0.62" filter="url(#b1)"/>
<path d="M92 286 L119 287 L134 285.6 L143 288 L143 293 L118 299 L99 303 L84 303 Z" fill="#573a72" opacity="0.5" filter="url(#b1)"/>
<path d="M73 283.5 L95 283 L95.5 291 L86 298 L74 299.5 L69.5 292 Z" fill="#513670" opacity="0.8" filter="url(#b1)"/>
<circle cx="103" cy="236" r="0.9" fill="#5a4470" opacity="0.7"/>
<circle cx="121" cy="291.5" r="0.8" fill="#4e3a66" opacity="0.7"/>
<g filter="url(#b08)">
<path d="M124.8 234.0 L127.0 231.8 L136.1 231.0 L143.6 233.3 L145.1 239.3 L166.1 244.2 L172.4 249.8 L173.9 259.6 L175.6 263.3 L173.3 274.6 L164.9 282.4 L150.3 291.1 L145.1 297.9 L142.5 291.1 L140.9 285.1 L134.9 283.3 L136.5 277.9 L124.0 274.6 L131.9 267.8 L128.8 255.0 L127.5 243.0 L124.5 236.3 Z" fill="#3c4a98" stroke="#463f8a" stroke-width="1.6"/>
<path d="M125.8 234.3 L127.6 232.8 L136.1 232.1 L142.7 234.0 L144.0 239.6 L128.8 242.7 L125.5 236.4 Z" fill="#4a66a2"/>
<path d="M137.6 233.4 L142.7 234.3 L143.7 238.8 L140.3 238.8 Z" fill="#98d6d0"/>
<path d="M129.6 243.6 L145.1 240.2 L165.8 245.1 L171.4 250.2 L172.9 259.6 L174.1 263.2 L138.5 265.7 L132.5 267.5 L129.9 255.0 L128.5 243.9 Z" fill="#9cd2d2"/>
<path d="M130.0 254.4 L145.1 247.5 L166.1 246.0 L170.9 250.2 L171.5 253.5 L149.6 257.3 L130.9 262.6 Z" fill="#b2e2dc" opacity="0.8"/>
<path d="M131.6 264.4 L160.1 257.2 L172.7 258.4 L173.0 261.1 L138.5 265.6 L132.5 267.4 Z" fill="#8ecad0" opacity="0.8"/>
<path d="M136.1 282.7 L145.1 283.7 L164.0 282.2 L150.2 290.2 L145.2 296.2 L143.3 290.8 L141.6 284.6 Z" fill="#5694b8"/>
<path d="M132.8 268.1 L138.5 266.0 L174.2 263.8 L174.5 264.7 L172.4 274.0 L164.3 281.5 L145.1 283.3 L137.9 281.8 L137.6 277.3 L138.5 270.4 Z" fill="#c0ece2"/>
<path d="M125.5 274.4 L132.2 268.6 L138.2 270.5 L137.1 277.1 Z" fill="#78b2d2"/>
</g>
<path d="M73.9 276.4 L81.0 278.0 L91.1 275.3 L93.2 283.5 L82.2 285.4 L77.4 282.8 Z" fill="#44589c" filter="url(#b08)"/>
<path d="M76.6 278.4 L81.0 279.6 L89.6 277.4 L90.9 282.2 L82.6 283.5 L79.0 281.6 Z" fill="#62b0bc" filter="url(#b08)"/>
<path d="M56.2 296.5 L63.0 291.5 L67.1 293.8 L82.6 340.0 L78.7 344.2 L72.9 344.8 L70.0 341.0 L57.2 300.5 Z" fill="#394488" filter="url(#b08)"/>
<path d="M60.1 298.9 L64.3 296.5 L79.7 339.4 L77.4 341.6 L73.9 341.9 L72.3 340.0 Z" fill="#456a9e" filter="url(#b08)"/>
<path d="M57.8 296.7 L63.0 292.8 L65.5 294.1 L60.1 299.2 Z" fill="#6cc0be" filter="url(#b08)"/>
<path d="M23.5 335.0 L31.7 331.0 L39.2 332.6 L50.4 336.8 L56.9 340.7 L53.0 345.5 L35.3 345.5 L30.8 341.3 L27.0 337.1 Z" fill="#3a4689" filter="url(#b08)"/>
<path d="M30.8 333.3 L38.9 334.2 L49.8 338.1 L53.7 341.0 L51.4 343.6 L36.3 343.6 L33.1 340.3 Z" fill="#4672a2" filter="url(#b08)"/>
<path d="M30.8 333.0 L36.0 333.6 L34.1 337.1 Z" fill="#98dcc8" filter="url(#b08)"/>
</g>
<path d="M109.5 345.6 H180.2 M109.5 341.6 V349.8 M180.2 341.6 V349.8" stroke="#fff" stroke-width="1.5" fill="none"/>
<text x="145.6" y="339.2" font-size="11" fill="#fff" stroke="#fff" text-anchor="middle" >10 µm</text>
<text x="27.2" y="243.6" font-size="18" fill="#fff" stroke="#fff" text-anchor="start" >c)</text>
<text x="62.7" y="263.8" font-size="13" fill="#fff" stroke="#fff" text-anchor="start" >SiO<tspan font-size="8" dy="2.5">2</tspan><tspan dy="-2.5">/Si</tspan></text>
<text x="137.6" y="267.6" font-size="13" fill="#fff" stroke="#fff" text-anchor="start" >bulk</text>
<text x="70.2" y="296.8" font-size="10.5" fill="#fff" stroke="#fff" text-anchor="start" >FL</text>
<text x="98.3" y="303.2" font-size="13" fill="#fff" stroke="#fff" text-anchor="start" >ML</text>
<line x1="49.0" y1="402.6" x2="57.6" y2="389.2" stroke="#a2a052" stroke-width="1.35"/><line x1="74.3" y1="402.6" x2="57.6" y2="389.2" stroke="#a2a052" stroke-width="1.35"/><line x1="74.3" y1="402.6" x2="83.1" y2="389.2" stroke="#a6be56" stroke-width="1.35"/><line x1="99.8" y1="402.6" x2="83.1" y2="389.2" stroke="#a6be56" stroke-width="1.35"/><line x1="99.8" y1="402.6" x2="108.5" y2="389.2" stroke="#a6be56" stroke-width="1.35"/><line x1="125.3" y1="402.6" x2="108.5" y2="389.2" stroke="#a6be56" stroke-width="1.35"/><line x1="125.3" y1="402.6" x2="134.2" y2="389.2" stroke="#a2a052" stroke-width="1.35"/><line x1="150.9" y1="402.6" x2="134.2" y2="389.2" stroke="#a2a052" stroke-width="1.35"/><line x1="150.9" y1="402.6" x2="159.9" y2="389.2" stroke="#a6be56" stroke-width="1.35"/><line x1="176.4" y1="402.6" x2="159.9" y2="389.2" stroke="#a6be56" stroke-width="1.35"/><line x1="49.0" y1="402.6" x2="57.6" y2="415.5" stroke="#a6be56" stroke-width="1.35"/><line x1="74.3" y1="402.6" x2="57.6" y2="415.5" stroke="#a6be56" stroke-width="1.35"/><line x1="74.3" y1="402.6" x2="83.1" y2="415.5" stroke="#a2a052" stroke-width="1.35"/><line x1="99.8" y1="402.6" x2="83.1" y2="415.5" stroke="#a2a052" stroke-width="1.35"/><line x1="99.8" y1="402.6" x2="108.8" y2="415.5" stroke="#a6be56" stroke-width="1.35"/><line x1="125.3" y1="402.6" x2="108.8" y2="415.5" stroke="#a6be56" stroke-width="1.35"/><line x1="125.3" y1="402.6" x2="134.2" y2="415.5" stroke="#a2a052" stroke-width="1.35"/><line x1="150.9" y1="402.6" x2="134.2" y2="415.5" stroke="#a2a052" stroke-width="1.35"/><line x1="150.9" y1="402.6" x2="159.9" y2="415.5" stroke="#a2a052" stroke-width="1.35"/><line x1="176.4" y1="402.6" x2="159.9" y2="415.5" stroke="#a2a052" stroke-width="1.35"/>
<circle cx="57.6" cy="415.5" r="3.4" fill="url(#gS)"/>
<circle cx="83.1" cy="415.5" r="3.4" fill="url(#gSe)"/>
<circle cx="108.8" cy="415.5" r="3.4" fill="url(#gS)"/>
<circle cx="134.2" cy="415.5" r="3.4" fill="url(#gSe)"/>
<circle cx="159.9" cy="415.5" r="3.4" fill="url(#gSe)"/>
<circle cx="57.6" cy="389.2" r="3.4" fill="url(#gSe)"/>
<circle cx="83.1" cy="389.2" r="3.4" fill="url(#gS)"/>
<circle cx="108.5" cy="389.2" r="3.4" fill="url(#gS)"/>
<circle cx="134.2" cy="389.2" r="3.4" fill="url(#gSe)"/>
<circle cx="159.9" cy="389.2" r="3.4" fill="url(#gS)"/>
<circle cx="49.0" cy="402.6" r="4.9" fill="url(#gMo)"/>
<circle cx="74.3" cy="402.6" r="4.9" fill="url(#gMo)"/>
<circle cx="99.8" cy="402.6" r="4.9" fill="url(#gMo)"/>
<circle cx="125.3" cy="402.6" r="4.9" fill="url(#gMo)"/>
<circle cx="150.9" cy="402.6" r="4.9" fill="url(#gMo)"/>
<circle cx="176.4" cy="402.6" r="4.9" fill="url(#gMo)"/>
<path d="M20.4 482.9 L21.6 482.8 L23.3 483.0 L25.0 482.0 L26.4 481.5 L27.7 481.1 L29.0 480.2 L30.5 480.3 L32.0 480.1 L33.4 480.4 L34.6 480.0 L35.8 481.1 L37.0 481.6 L38.4 483.4 L39.9 484.0 L41.3 483.4 L42.6 484.3 L43.8 483.5 L45.0 482.2 L46.2 481.4 L47.4 480.0 L48.5 478.9 L49.6 478.8 L50.7 477.3 L51.8 475.9 L52.9 473.4 L53.9 469.9 L55.0 466.9 L56.2 462.7 L57.3 458.7 L58.4 454.2 L59.2 451.2 L59.9 448.2 L60.6 446.2 L61.2 444.2 L61.7 442.8 L62.3 443.1 L62.9 443.1 L63.6 443.4 L64.2 443.9 L64.8 444.1 L65.5 445.0 L66.2 446.5 L67.0 448.3 L67.7 451.8 L68.6 453.9 L69.5 457.2 L70.5 459.3 L71.5 462.6 L72.5 464.6 L73.5 465.2 L74.6 467.2 L75.7 470.2 L76.9 471.5 L78.0 473.3 L78.9 472.1 L79.7 470.6 L80.4 470.4 L81.0 470.1 L81.5 469.1 L82.0 468.8 L82.6 469.6 L83.2 471.2 L84.0 471.8 L85.0 471.6 L86.2 472.6 L87.3 473.3 L88.3 474.5 L89.4 476.8 L90.4 477.1 L91.5 478.9 L92.7 479.8 L93.8 480.0 L94.8 480.3 L95.7 478.4 L96.6 478.2 L97.4 477.0 L98.2 477.1 L99.0 476.4 L99.9 475.9 L100.9 476.3 L102.0 475.2 L103.2 473.4 L104.4 472.9 L105.6 470.8 L106.6 470.1 L107.5 469.9 L108.4 468.6 L109.3 466.8 L110.1 466.8 L110.9 464.3 L111.6 462.4 L112.3 460.8 L113.0 458.2 L113.6 456.3 L114.2 454.4 L114.8 453.6 L115.5 454.9 L116.2 455.8 L117.0 457.7 L118.0 458.8 L119.0 460.3 L120.0 461.5 L120.7 460.2 L121.4 458.8 L122.0 457.5 L122.7 454.9 L123.3 453.1 L124.0 452.1 L124.7 449.3 L125.4 445.6 L126.0 443.0 L126.5 441.7 L127.0 440.2 L127.5 438.5 L128.0 440.1 L128.5 441.5 L129.0 443.1 L129.5 445.4 L130.0 447.9 L130.6 450.9 L131.2 455.4 L131.9 457.7 L132.6 461.3 L133.2 463.2 L133.9 466.2 L134.5 467.4 L135.2 467.7 L135.9 467.7 L136.6 468.5 L137.3 468.0 L137.9 468.6 L138.5 468.9 L139.0 468.5 L139.5 466.9 L140.0 464.7 L140.5 463.7 L140.9 460.4 L141.4 456.3 L141.9 450.3 L142.5 442.7 L143.0 435.4 L143.5 430.0 L143.9 425.6 L144.3 424.0 L144.7 425.2 L145.2 430.0 L145.7 436.5 L146.3 444.1 L146.9 452.3 L147.5 459.7 L148.0 464.4 L148.5 467.4 L149.0 470.3 L149.5 473.1 L150.0 476.7 L150.6 478.3 L151.2 480.0 L151.8 479.6 L152.4 481.2 L153.0 481.7 L153.7 482.5 L154.6 482.4 L155.9 483.8 L157.3 482.9 L159.0 484.1 L160.9 484.9 L162.9 485.8 L164.8 486.2 L166.6 486.7 L168.3 487.3 L170.0 488.0 L171.8 487.7 L173.5 488.8 L175.0 489.6 L176.1 489.9 L177.0 489.6 L177.9 490.2 L178.8 490.2 L179.8 489.6 L181.0 489.4 L182.8 488.8 L184.9 488.9 L186.4 488.8" fill="none" stroke="#5ab0a2" stroke-width="2.5" stroke-linejoin="round" stroke-linecap="round" />
<path d="M20.4 546.2 L21.0 546.3 L21.6 546.3 L22.2 546.5 L22.8 546.3 L23.4 546.4 L24.0 545.8 L24.6 546.1 L25.2 546.4 L25.8 546.2 L26.4 546.4 L27.0 545.9 L27.6 546.1 L28.2 545.9 L28.8 546.2 L29.4 546.2 L30.0 545.8 L30.6 545.9 L31.2 546.0 L31.8 546.4 L32.4 546.3 L33.0 545.9 L33.6 546.3 L34.2 545.9 L34.8 546.2 L35.4 545.8 L36.0 545.7 L36.6 546.4 L37.2 545.9 L37.8 545.9 L38.4 546.4 L39.0 546.3 L39.6 545.9 L40.2 546.4 L40.8 546.1 L41.4 546.2 L42.0 545.9 L42.6 546.4 L43.2 546.2 L43.8 546.4 L44.4 546.3 L45.0 545.9 L45.6 545.9 L46.2 545.8 L46.8 545.8 L47.4 545.7 L48.0 545.9 L48.6 546.1 L49.2 545.6 L49.8 546.1 L50.4 545.8 L51.0 545.8 L51.6 546.2 L52.2 545.9 L52.8 545.8 L53.4 545.9 L54.0 546.0 L54.6 545.5 L55.2 546.2 L55.8 545.5 L56.4 546.0 L57.0 546.0 L57.6 545.4 L58.2 545.9 L58.8 545.6 L59.4 545.7 L60.0 545.2 L60.6 545.2 L61.2 545.2 L61.8 545.7 L62.4 545.1 L63.0 545.4 L63.6 545.4 L64.2 545.3 L64.8 544.8 L65.4 544.7 L66.0 544.6 L66.6 544.5 L67.2 543.8 L67.8 543.9 L68.4 543.6 L69.0 543.1 L69.6 541.8 L70.2 541.6 L70.8 539.8 L71.4 538.2 L72.0 535.9 L72.6 532.4 L73.2 526.0 L73.8 516.8 L74.4 501.5 L75.0 483.0 L75.6 475.9 L76.2 488.8 L76.8 506.8 L77.4 520.0 L78.0 528.6 L78.6 533.9 L79.2 536.5 L79.8 538.6 L80.4 540.8 L81.0 541.6 L81.6 542.3 L82.2 542.8 L82.8 543.5 L83.4 544.1 L84.0 544.1 L84.6 544.3 L85.2 544.3 L85.8 545.1 L86.4 544.6 L87.0 545.0 L87.6 545.4 L88.2 545.0 L88.8 545.5 L89.4 545.7 L90.0 545.5 L90.6 545.7 L91.2 545.2 L91.8 545.5 L92.4 545.4 L93.0 545.9 L93.6 545.5 L94.2 545.6 L94.8 546.0 L95.4 546.0 L96.0 546.1 L96.6 545.7 L97.2 545.7 L97.8 545.9 L98.4 545.7 L99.0 545.6 L99.6 545.7 L100.2 545.5 L100.8 545.7 L101.4 546.1 L102.0 546.0 L102.6 545.8 L103.2 545.7 L103.8 545.5 L104.4 545.3 L105.0 545.4 L105.6 545.7 L106.2 545.7 L106.8 545.2 L107.4 545.4 L108.0 545.2 L108.6 544.9 L109.2 544.6 L109.8 544.3 L110.4 543.4 L111.0 542.9 L111.6 541.6 L112.2 540.6 L112.8 539.9 L113.4 539.6 L114.0 540.1 L114.6 541.7 L115.2 542.6 L115.8 543.4 L116.4 543.6 L117.0 544.4 L117.6 544.6 L118.2 545.1 L118.8 545.2 L119.4 545.6 L120.0 545.5 L120.6 545.7 L121.2 545.5 L121.8 545.8 L122.4 545.9 L123.0 546.0 L123.6 545.7 L124.2 546.1 L124.8 546.1 L125.4 546.0 L126.0 546.2 L126.6 546.2 L127.2 545.9 L127.8 545.9 L128.4 545.7 L129.0 546.2 L129.6 546.2 L130.2 545.9 L130.8 546.1 L131.4 546.1 L132.0 546.1 L132.6 545.7 L133.2 546.1 L133.8 546.0 L134.4 546.0 L135.0 545.9 L135.6 546.0 L136.2 546.1 L136.8 546.0 L137.4 546.0 L138.0 545.5 L138.6 545.6 L139.2 545.8 L139.8 545.9 L140.4 545.6 L141.0 545.9 L141.6 545.8 L142.2 545.4 L142.8 545.7 L143.4 545.5 L144.0 545.3 L144.6 545.3 L145.2 545.4 L145.8 545.3 L146.4 545.3 L147.0 545.1 L147.6 545.4 L148.2 545.3 L148.8 545.4 L149.4 545.4 L150.0 545.2 L150.6 545.6 L151.2 545.0 L151.8 545.3 L152.4 545.3 L153.0 545.4 L153.6 545.2 L154.2 545.7 L154.8 545.5 L155.4 545.3 L156.0 545.7 L156.6 545.4 L157.2 545.7 L157.8 545.6 L158.4 545.8 L159.0 546.1 L159.6 546.0 L160.2 545.8 L160.8 546.1 L161.4 545.9 L162.0 545.8 L162.6 545.6 L163.2 545.9 L163.8 545.9 L164.4 546.1 L165.0 546.1 L165.6 545.7 L166.2 545.4 L166.8 545.4 L167.4 544.3 L168.0 544.2 L168.6 544.9 L169.2 545.4 L169.8 545.4 L170.4 545.9 L171.0 546.1 L171.6 545.8 L172.2 545.9 L172.8 545.8 L173.4 545.9 L174.0 546.4 L174.6 546.0 L175.2 546.4 L175.8 546.4 L176.4 546.1 L177.0 545.9 L177.6 546.4 L178.2 546.1 L178.8 546.0 L179.4 546.0 L180.0 546.4 L180.6 546.1 L181.2 546.0 L181.8 546.1 L182.4 545.9 L183.0 546.2 L183.6 546.1 L184.2 546.0 L184.8 546.3 L185.4 546.4 L186.0 545.8 L186.6 546.2" fill="none" stroke="#1a14f4" stroke-width="2.6" stroke-linejoin="round" stroke-linecap="round" />
<rect x="19.4" y="377.3" width="167.9" height="184.7" fill="none" stroke="#000" stroke-width="2.6"/>
<path d="M50.2 562.0 v-7.3 M50.2 377.3 v6.2 M80.7 562.0 v-7.3 M80.7 377.3 v6.2 M111.2 562.0 v-7.3 M111.2 377.3 v6.2 M141.7 562.0 v-7.3 M141.7 377.3 v6.2 M172.2 562.0 v-7.3 M172.2 377.3 v6.2 M34.9 562.0 v-4.2 M34.9 377.3 v3.6 M65.4 562.0 v-4.2 M65.4 377.3 v3.6 M95.9 562.0 v-4.2 M95.9 377.3 v3.6 M126.4 562.0 v-4.2 M126.4 377.3 v3.6 M156.9 562.0 v-4.2 M156.9 377.3 v3.6 M19.4 407.5 h6.6 M187.3 407.5 h-6.6 M19.4 438.5 h6.6 M187.3 438.5 h-6.6 M19.4 469.5 h6.6 M187.3 469.5 h-6.6 M19.4 500.5 h6.6 M187.3 500.5 h-6.6 M19.4 531.5 h6.6 M187.3 531.5 h-6.6 M19.4 392.0 h3.8 M187.3 392.0 h-3.8 M19.4 423.0 h3.8 M187.3 423.0 h-3.8 M19.4 454.0 h3.8 M187.3 454.0 h-3.8 M19.4 485.0 h3.8 M187.3 485.0 h-3.8 M19.4 516.0 h3.8 M187.3 516.0 h-3.8 M19.4 547.0 h3.8 M187.3 547.0 h-3.8" stroke="#000" stroke-width="2.4" fill="none"/>
<text transform="translate(46.7 578.3) scale(1 1.08)" font-size="13.0" fill="#1a1a1a" stroke="#1a1a1a" text-anchor="middle" >250</text>
<text transform="translate(75.7 578.3) scale(1 1.08)" font-size="13.0" fill="#1a1a1a" stroke="#1a1a1a" text-anchor="middle" >300</text>
<text transform="translate(104.2 578.3) scale(1 1.08)" font-size="13.0" fill="#1a1a1a" stroke="#1a1a1a" text-anchor="middle" >350</text>
<text transform="translate(132.4 578.3) scale(1 1.08)" font-size="13.0" fill="#1a1a1a" stroke="#1a1a1a" text-anchor="middle" >400</text>
<text transform="translate(160.2 578.3) scale(1 1.08)" font-size="13.0" fill="#1a1a1a" stroke="#1a1a1a" text-anchor="middle" >450</text>
<text transform="translate(35.6 596.0) scale(1 1.07)" font-size="14.3" fill="#1a1a1a" stroke="#1a1a1a" text-anchor="start" >Raman shift [cm<tspan font-size="7.5" dy="-6" dx="0.5">-1</tspan><tspan dy="6" dx="0.8">]</tspan></text>
<text transform="translate(12.3 469.7) rotate(-90)" font-size="14.7" fill="#222" stroke="#222" text-anchor="middle">Intensity [arb. u.]</text>
<text x="27.8" y="396.9" font-size="18" fill="#222" stroke="#222" text-anchor="start" >d)</text>
<text x="49.5" y="431.8" font-size="13" fill="#222" stroke="#222" text-anchor="start" ><tspan fill="#5ab0a2" stroke="#5ab0a2">Alloy Mo</tspan><tspan fill="#ccd428" stroke="#ccd428">S</tspan><tspan fill="#e8962a" stroke="#e8962a">Se</tspan></text>
<text x="95.9" y="536.2" font-size="12.5" fill="#1a14f4" stroke="#1a14f4" text-anchor="start" >Janus MoSSe</text>
<path d="M235.5 254.1 L236.0 254.4 L236.5 254.3 L237.0 254.2 L237.5 254.1 L238.0 254.4 L238.5 254.4 L239.0 254.2 L239.5 254.2 L240.0 254.0 L240.5 253.9 L241.0 254.0 L241.5 254.1 L242.0 253.8 L242.5 254.2 L243.0 253.9 L243.5 253.8 L244.0 253.7 L244.5 254.1 L245.0 254.0 L245.5 254.0 L246.0 253.8 L246.5 253.5 L247.0 253.6 L247.5 253.6 L248.0 253.3 L248.5 253.7 L249.0 253.3 L249.5 253.1 L250.0 253.3 L250.5 252.9 L251.0 253.1 L251.5 252.8 L252.0 252.6 L252.5 252.4 L253.0 252.2 L253.5 251.9 L254.0 251.5 L254.5 251.7 L255.0 251.0 L255.5 250.9 L256.0 250.2 L256.5 250.1 L257.0 249.4 L257.5 248.7 L258.0 248.0 L258.5 247.0 L259.0 246.2 L259.5 244.9 L260.0 244.1 L260.5 243.4 L261.0 242.3 L261.5 242.2 L262.0 242.0 L262.5 242.8 L263.0 245.0 L263.5 247.3 L264.0 249.1 L264.5 250.7 L265.0 251.4 L265.5 251.9 L266.0 252.5 L266.5 253.3 L267.0 253.8 L267.5 254.0 L268.0 254.4 L268.5 254.9 L269.0 255.3 L269.5 255.2 L270.0 255.4 L270.5 255.3 L271.0 255.2 L271.5 254.7 L272.0 254.5 L272.5 254.4 L273.0 254.4 L273.5 253.9 L274.0 253.8 L274.5 253.4 L275.0 253.0 L275.5 252.8 L276.0 252.9 L276.5 252.6 L277.0 252.1 L277.5 252.0 L278.0 251.7 L278.5 251.5 L279.0 251.2 L279.5 250.6 L280.0 250.5 L280.5 250.3 L281.0 249.8 L281.5 249.8 L282.0 249.5 L282.5 249.4 L283.0 249.5 L283.5 250.1 L284.0 250.1 L284.5 250.4 L285.0 251.1 L285.5 251.5 L286.0 251.6 L286.5 252.1 L287.0 251.9 L287.5 252.2 L288.0 252.4 L288.5 252.5 L289.0 252.5 L289.5 252.5 L290.0 252.7 L290.5 252.9 L291.0 253.0 L291.5 252.8 L292.0 252.6 L292.5 252.4 L293.0 252.6 L293.5 252.2 L294.0 252.1 L294.5 251.6 L295.0 251.5 L295.5 251.6 L296.0 251.4 L296.5 251.3 L297.0 251.1 L297.5 251.1 L298.0 251.2 L298.5 251.5 L299.0 251.4 L299.5 251.8 L300.0 251.9 L300.5 252.4 L301.0 252.2 L301.5 252.8 L302.0 253.1 L302.5 252.8 L303.0 253.2 L303.5 253.4 L304.0 253.6 L304.5 253.5 L305.0 253.5 L305.5 253.6 L306.0 254.0 L306.5 254.0 L307.0 253.7 L307.5 253.7 L308.0 253.7 L308.5 253.7 L309.0 254.0 L309.5 253.8 L310.0 254.2 L310.5 254.1 L311.0 253.9 L311.5 254.1 L312.0 254.0 L312.5 254.1 L313.0 254.0 L313.5 253.9 L314.0 254.0 L314.5 254.1 L315.0 254.2 L315.5 254.1 L316.0 253.9 L316.5 254.2 L317.0 254.3 L317.5 254.2 L318.0 254.2 L318.5 253.8 L319.0 254.0 L319.5 253.8 L320.0 254.1 L320.5 253.8 L321.0 254.1 L321.5 253.8 L322.0 254.0 L322.5 253.8 L323.0 253.6 L323.5 253.8 L324.0 253.7 L324.5 253.9 L325.0 253.6 L325.5 253.6 L326.0 253.6 L326.5 253.7 L327.0 253.2 L327.5 253.4 L328.0 253.2 L328.5 253.2 L329.0 253.2 L329.5 252.8 L330.0 252.8 L330.5 252.6 L331.0 252.4 L331.5 252.0 L332.0 252.1 L332.5 252.0 L333.0 251.4 L333.5 251.2 L334.0 251.2 L334.5 250.5 L335.0 250.3 L335.5 250.1 L336.0 250.2 L336.5 250.1 L337.0 249.8 L337.5 249.9 L338.0 249.7 L338.5 250.1 L339.0 250.3 L339.5 250.6 L340.0 250.8 L340.5 251.1 L341.0 251.3 L341.5 251.5 L342.0 252.0 L342.5 252.2 L343.0 252.6 L343.5 252.9 L344.0 253.0 L344.5 253.0 L345.0 253.1 L345.5 253.3 L346.0 253.4 L346.5 253.6 L347.0 253.9 L347.5 253.5 L348.0 253.8 L348.5 253.8 L349.0 254.0 L349.5 254.2 L350.0 254.1 L350.5 254.1 L351.0 254.2 L351.5 254.2 L352.0 254.3 L352.5 254.3 L353.0 254.3 L353.5 254.1 L354.0 254.5 L354.5 254.2 L355.0 254.4 L355.5 254.5 L356.0 254.6 L356.5 254.6 L357.0 254.1 L357.5 254.3 L358.0 254.3 L358.5 254.4 L359.0 254.2 L359.5 254.5 L360.0 254.2 L360.5 254.4 L361.0 254.7 L361.5 254.6 L362.0 254.5 L362.5 254.3 L363.0 254.7 L363.5 254.6 L364.0 254.4 L364.5 254.4 M368.3 255.8 L368.8 255.8 L369.3 255.6 L369.8 255.9 L370.3 255.6 L370.8 255.6 L371.3 255.9 L371.8 255.5 L372.3 255.8 L372.8 255.5 L373.3 255.7 L373.8 255.6 L374.3 255.6 L374.8 255.9 L375.3 255.7 L375.8 255.7 L376.3 255.8 L376.8 255.6 L377.3 255.5 L377.8 255.6 L378.3 255.6 L378.8 255.5 L379.3 255.9 L379.8 255.5 L380.3 255.9 L380.8 255.9 L381.3 255.8 L381.8 255.5 L382.3 255.7 L382.8 255.5 L383.3 255.8 L383.8 255.8 L384.3 255.6 L384.8 255.5 L385.3 255.7 L385.8 255.5 L386.3 255.6 L386.8 255.7 L387.3 255.9 L387.8 255.6 L388.3 255.5 L388.8 255.8 L389.3 255.9 L389.8 255.7 L390.3 255.5 L390.8 255.5 L391.3 255.7 L391.8 255.7 L392.3 255.6 L392.8 255.9 L393.3 255.9 L393.8 255.9 L394.3 255.9 L394.8 255.5 L395.3 255.7 L395.8 255.5 L396.3 255.9 L396.8 255.8 L397.3 255.8 L397.8 255.5 L398.3 255.5 L398.8 255.9 M402.0 255.1 L402.5 255.0 L403.0 254.8 L403.5 254.9 L404.0 254.5 L404.5 254.4 L405.0 254.3 L405.5 254.2 L406.0 254.2 L406.5 254.1 L407.0 253.5 L407.5 253.3 L408.0 253.3 L408.5 253.2 L409.0 252.7 L409.5 252.4 L410.0 252.0 L410.5 251.6 L411.0 251.4 L411.5 251.1 L412.0 250.7 L412.5 249.9 L413.0 249.4 L413.5 249.4 L414.0 248.7 L414.5 248.3 L415.0 248.0 L415.5 247.8 L416.0 247.6 L416.5 247.3 L417.0 247.7 L417.5 247.6 L418.0 247.8 L418.5 248.2 L419.0 248.7 L419.5 249.2 L420.0 249.4 L420.5 250.1 L421.0 250.4 L421.5 250.6 L422.0 251.4 L422.5 251.7 L423.0 252.1 L423.5 252.3 L424.0 252.4 L424.5 252.9 L425.0 253.2 L425.5 253.3 L426.0 253.7 L426.5 253.9 L427.0 253.8 L427.5 254.2 L428.0 254.4 L428.5 254.4 L429.0 254.2 L429.5 254.4 L430.0 254.7 L430.5 254.8 L431.0 254.9 L431.5 255.0" fill="none" stroke="#7a1212" stroke-width="2.7" stroke-linejoin="round" stroke-linecap="round"/>
<path d="M235.5 291.0 L236.0 291.3 L236.5 291.1 L237.0 291.3 L237.5 290.9 L238.0 291.3 L238.5 291.0 L239.0 291.1 L239.5 291.1 L240.0 291.1 L240.5 290.8 L241.0 290.6 L241.5 290.8 L242.0 290.6 L242.5 290.7 L243.0 290.8 L243.5 290.6 L244.0 290.4 L244.5 290.3 L245.0 290.4 L245.5 290.4 L246.0 290.1 L246.5 290.3 L247.0 290.0 L247.5 289.9 L248.0 290.2 L248.5 289.9 L249.0 289.9 L249.5 289.6 L250.0 289.3 L250.5 289.2 L251.0 289.1 L251.5 289.0 L252.0 288.8 L252.5 288.5 L253.0 288.2 L253.5 287.6 L254.0 287.3 L254.5 286.9 L255.0 286.4 L255.5 285.7 L256.0 285.1 L256.5 284.2 L257.0 283.0 L257.5 282.3 L258.0 280.8 L258.5 279.3 L259.0 277.5 L259.5 275.4 L260.0 273.3 L260.5 270.8 L261.0 268.7 L261.5 266.9 L262.0 266.4 L262.5 266.9 L263.0 270.1 L263.5 274.5 L264.0 277.9 L264.5 281.0 L265.0 283.5 L265.5 285.3 L266.0 286.4 L266.5 287.2 L267.0 288.2 L267.5 289.1 L268.0 289.6 L268.5 290.2 L269.0 290.7 L269.5 291.3 L270.0 291.5 L270.5 291.6 L271.0 291.6 L271.5 291.4 L272.0 291.0 L272.5 290.7 L273.0 290.7 L273.5 290.5 L274.0 290.2 L274.5 289.6 L275.0 289.6 L275.5 289.3 L276.0 288.5 L276.5 288.3 L277.0 288.1 L277.5 287.4 L278.0 287.4 L278.5 286.7 L279.0 286.4 L279.5 285.8 L280.0 285.4 L280.5 285.0 L281.0 284.9 L281.5 284.7 L282.0 284.4 L282.5 284.5 L283.0 284.5 L283.5 284.9 L284.0 285.1 L284.5 285.5 L285.0 286.0 L285.5 286.4 L286.0 287.2 L286.5 287.5 L287.0 287.8 L287.5 288.5 L288.0 288.7 L288.5 288.7 L289.0 289.3 L289.5 289.4 L290.0 289.5 L290.5 289.6 L291.0 290.0 L291.5 289.8 L292.0 290.0 L292.5 290.1 L293.0 290.0 L293.5 290.0 L294.0 290.2 L294.5 290.2 L295.0 290.1 L295.5 290.1 L296.0 289.9 L296.5 290.2 L297.0 289.8 L297.5 290.1 L298.0 290.0 L298.5 290.0 L299.0 290.2 L299.5 290.3 L300.0 290.1 L300.5 290.4 L301.0 290.3 L301.5 290.7 L302.0 290.5 L302.5 290.6 L303.0 290.6 L303.5 290.6 L304.0 290.7 L304.5 290.7 L305.0 291.0 L305.5 291.2 L306.0 290.9 L306.5 290.9 L307.0 291.1 L307.5 290.9 L308.0 291.1 L308.5 291.3 L309.0 291.0 L309.5 291.3 L310.0 291.2 L310.5 291.0 L311.0 291.1 L311.5 291.3 L312.0 291.0 L312.5 291.1 L313.0 291.3 L313.5 291.4 L314.0 291.3 L314.5 291.3 L315.0 291.0 L315.5 291.1 L316.0 291.2 L316.5 291.4 L317.0 291.2 L317.5 291.4 L318.0 291.0 L318.5 291.2 L319.0 291.4 L319.5 291.3 L320.0 291.2 L320.5 291.0 L321.0 291.4 L321.5 290.9 L322.0 291.3 L322.5 291.2 L323.0 291.2 L323.5 291.1 L324.0 290.8 L324.5 290.9 L325.0 291.0 L325.5 291.0 L326.0 290.8 L326.5 291.0 L327.0 290.6 L327.5 290.6 L328.0 290.5 L328.5 290.5 L329.0 290.7 L329.5 290.6 L330.0 290.2 L330.5 290.2 L331.0 290.0 L331.5 290.2 L332.0 290.0 L332.5 289.7 L333.0 289.7 L333.5 289.8 L334.0 289.5 L334.5 289.5 L335.0 289.4 L335.5 289.2 L336.0 289.2 L336.5 289.0 L337.0 288.9 L337.5 289.0 L338.0 289.0 L338.5 289.0 L339.0 289.1 L339.5 289.5 L340.0 289.4 L340.5 289.4 L341.0 289.5 L341.5 289.7 L342.0 290.2 L342.5 290.1 L343.0 290.3 L343.5 290.2 L344.0 290.5 L344.5 290.5 L345.0 290.8 L345.5 290.7 L346.0 290.7 L346.5 290.8 L347.0 291.0 L347.5 291.1 L348.0 291.1 L348.5 291.1 L349.0 291.0 L349.5 291.3 L350.0 291.3 L350.5 291.0 L351.0 291.3 L351.5 291.4 L352.0 291.4 L352.5 291.5 L353.0 291.5 L353.5 291.2 L354.0 291.6 L354.5 291.3 L355.0 291.3 L355.5 291.6 L356.0 291.3 L356.5 291.4 L357.0 291.5 L357.5 291.3 L358.0 291.3 L358.5 291.6 L359.0 291.5 L359.5 291.6 L360.0 291.6 L360.5 291.7 L361.0 291.7 L361.5 291.7 L362.0 291.8 L362.5 291.5 L363.0 291.6 L363.5 291.5 L364.0 291.8 L364.5 291.6 M368.3 292.5 L368.8 292.6 L369.3 292.4 L369.8 292.3 L370.3 292.4 L370.8 292.3 L371.3 292.3 L371.8 292.3 L372.3 292.5 L372.8 292.6 L373.3 292.3 L373.8 292.6 L374.3 292.3 L374.8 292.5 L375.3 292.4 L375.8 292.5 L376.3 292.6 L376.8 292.5 L377.3 292.4 L377.8 292.6 L378.3 292.3 L378.8 292.4 L379.3 292.6 L379.8 292.7 L380.3 292.7 L380.8 292.4 L381.3 292.6 L381.8 292.4 L382.3 292.6 L382.8 292.7 L383.3 292.3 L383.8 292.4 L384.3 292.7 L384.8 292.4 L385.3 292.6 L385.8 292.7 L386.3 292.4 L386.8 292.6 L387.3 292.3 L387.8 292.4 L388.3 292.3 L388.8 292.4 L389.3 292.4 L389.8 292.3 L390.3 292.7 L390.8 292.3 L391.3 292.5 L391.8 292.5 L392.3 292.7 L392.8 292.7 L393.3 292.6 L393.8 292.3 L394.3 292.6 L394.8 292.3 L395.3 292.7 L395.8 292.4 L396.3 292.4 L396.8 292.4 L397.3 292.4 L397.8 292.6 L398.3 292.7 L398.8 292.6 M402.0 292.0 L402.5 291.7 L403.0 291.6 L403.5 291.5 L404.0 291.5 L404.5 291.6 L405.0 291.6 L405.5 291.0 L406.0 291.3 L406.5 291.1 L407.0 290.7 L407.5 290.6 L408.0 290.4 L408.5 289.9 L409.0 289.9 L409.5 289.8 L410.0 289.4 L410.5 289.1 L411.0 288.3 L411.5 288.2 L412.0 287.7 L412.5 287.4 L413.0 286.6 L413.5 286.4 L414.0 285.7 L414.5 285.7 L415.0 285.3 L415.5 284.7 L416.0 284.7 L416.5 284.6 L417.0 284.9 L417.5 285.0 L418.0 285.0 L418.5 285.7 L419.0 286.1 L419.5 286.2 L420.0 286.7 L420.5 287.0 L421.0 287.5 L421.5 287.8 L422.0 288.2 L422.5 288.7 L423.0 288.8 L423.5 289.1 L424.0 289.7 L424.5 289.7 L425.0 289.8 L425.5 290.5 L426.0 290.3 L426.5 290.6 L427.0 290.7 L427.5 290.8 L428.0 291.0 L428.5 291.2 L429.0 291.1 L429.5 291.5 L430.0 291.3 L430.5 291.4 L431.0 291.6 L431.5 291.7" fill="none" stroke="#821414" stroke-width="2.7" stroke-linejoin="round" stroke-linecap="round"/>
<path d="M235.5 351.0 L236.0 351.0 L236.5 351.3 L237.0 351.2 L237.5 351.1 L238.0 351.2 L238.5 351.2 L239.0 351.0 L239.5 351.1 L240.0 351.2 L240.5 351.1 L241.0 351.2 L241.5 351.1 L242.0 351.2 L242.5 350.9 L243.0 351.1 L243.5 351.2 L244.0 351.0 L244.5 351.2 L245.0 350.8 L245.5 351.1 L246.0 350.8 L246.5 351.1 L247.0 350.9 L247.5 350.9 L248.0 350.8 L248.5 350.7 L249.0 351.0 L249.5 350.9 L250.0 350.9 L250.5 350.6 L251.0 350.6 L251.5 350.9 L252.0 350.5 L252.5 350.6 L253.0 350.7 L253.5 350.5 L254.0 350.5 L254.5 350.6 L255.0 350.5 L255.5 350.1 L256.0 350.1 L256.5 350.0 L257.0 350.0 L257.5 349.8 L258.0 349.4 L258.5 349.4 L259.0 348.9 L259.5 348.3 L260.0 348.0 L260.5 347.4 L261.0 346.5 L261.5 345.5 L262.0 344.1 L262.5 341.7 L263.0 337.9 L263.5 332.3 L264.0 323.0 L264.5 309.7 L265.0 296.0 L265.5 293.9 L266.0 306.5 L266.5 320.6 L267.0 330.5 L267.5 336.8 L268.0 340.6 L268.5 343.5 L269.0 345.3 L269.5 346.2 L270.0 347.1 L270.5 347.8 L271.0 348.5 L271.5 348.6 L272.0 349.2 L272.5 349.1 L273.0 349.5 L273.5 349.8 L274.0 349.9 L274.5 349.6 L275.0 350.1 L275.5 350.1 L276.0 350.0 L276.5 350.1 L277.0 350.0 L277.5 349.7 L278.0 349.7 L278.5 349.7 L279.0 349.4 L279.5 348.9 L280.0 348.7 L280.5 348.5 L281.0 348.7 L281.5 348.8 L282.0 348.9 L282.5 349.2 L283.0 349.8 L283.5 349.7 L284.0 350.1 L284.5 350.1 L285.0 350.3 L285.5 350.3 L286.0 350.3 L286.5 350.5 L287.0 350.5 L287.5 350.7 L288.0 350.8 L288.5 350.8 L289.0 351.0 L289.5 350.9 L290.0 350.7 L290.5 351.0 L291.0 350.9 L291.5 351.1 L292.0 351.2 L292.5 351.0 L293.0 350.9 L293.5 350.9 L294.0 351.0 L294.5 350.9 L295.0 350.8 L295.5 351.0 L296.0 351.1 L296.5 351.2 L297.0 351.2 L297.5 351.2 L298.0 351.2 L298.5 351.0 L299.0 351.1 L299.5 350.8 L300.0 351.2 L300.5 351.2 L301.0 351.0 L301.5 351.1 L302.0 351.0 L302.5 351.2 L303.0 351.1 L303.5 351.2 L304.0 351.3 L304.5 351.2 L305.0 351.0 L305.5 351.0 L306.0 351.3 L306.5 351.3 L307.0 351.0 L307.5 351.0 L308.0 351.3 L308.5 351.2 L309.0 351.0 L309.5 351.1 L310.0 351.3 L310.5 350.9 L311.0 351.0 L311.5 351.2 L312.0 351.3 L312.5 351.3 L313.0 351.1 L313.5 351.3 L314.0 351.4 L314.5 351.0 L315.0 351.0 L315.5 351.0 L316.0 351.3 L316.5 350.9 L317.0 351.1 L317.5 351.3 L318.0 351.0 L318.5 351.2 L319.0 351.1 L319.5 351.3 L320.0 351.1 L320.5 351.1 L321.0 351.3 L321.5 351.2 L322.0 350.9 L322.5 351.2 L323.0 351.0 L323.5 351.3 L324.0 351.3 L324.5 351.1 L325.0 351.0 L325.5 350.9 L326.0 350.9 L326.5 350.9 L327.0 350.9 L327.5 351.1 L328.0 350.8 L328.5 351.0 L329.0 351.0 L329.5 351.0 L330.0 350.9 L330.5 351.1 L331.0 350.7 L331.5 350.6 L332.0 350.7 L332.5 350.5 L333.0 350.7 L333.5 350.6 L334.0 350.3 L334.5 350.1 L335.0 349.6 L335.5 349.4 L336.0 349.0 L336.5 348.8 L337.0 348.7 L337.5 348.9 L338.0 349.2 L338.5 349.2 L339.0 349.7 L339.5 349.8 L340.0 350.4 L340.5 350.4 L341.0 350.6 L341.5 350.5 L342.0 350.8 L342.5 350.9 L343.0 351.0 L343.5 350.9 L344.0 350.8 L344.5 351.0 L345.0 350.7 L345.5 351.1 L346.0 350.9 L346.5 351.1 L347.0 350.9 L347.5 351.1 L348.0 350.9 L348.5 350.8 L349.0 351.0 L349.5 351.3 L350.0 351.0 L350.5 351.1 L351.0 351.3 L351.5 351.4 L352.0 351.0 L352.5 351.2 L353.0 351.3 L353.5 351.3 L354.0 351.1 L354.5 351.1 L355.0 351.3 L355.5 351.0 L356.0 351.1 L356.5 351.2 L357.0 351.3 L357.5 351.0 L358.0 351.2 L358.5 351.0 L359.0 351.0 L359.5 351.1 L360.0 351.2 L360.5 351.2 L361.0 351.4 L361.5 351.0 L362.0 351.2 L362.5 351.2 L363.0 351.0 L363.5 351.4 L364.0 351.0 L364.5 351.0 M368.3 351.3 L368.8 351.6 L369.3 351.6 L369.8 351.4 L370.3 351.7 L370.8 351.6 L371.3 351.4 L371.8 351.7 L372.3 351.7 L372.8 351.4 L373.3 351.7 L373.8 351.3 L374.3 351.4 L374.8 351.5 L375.3 351.7 L375.8 351.4 L376.3 351.4 L376.8 351.4 L377.3 351.7 L377.8 351.3 L378.3 351.7 L378.8 351.4 L379.3 351.5 L379.8 351.7 L380.3 351.4 L380.8 351.5 L381.3 351.6 L381.8 351.5 L382.3 351.5 L382.8 351.6 L383.3 351.4 L383.8 351.3 L384.3 351.3 L384.8 351.6 L385.3 351.5 L385.8 351.6 L386.3 351.3 L386.8 351.6 L387.3 351.5 L387.8 351.5 L388.3 351.7 L388.8 351.5 L389.3 351.5 L389.8 351.6 L390.3 351.3 L390.8 351.7 L391.3 351.5 L391.8 351.3 L392.3 351.5 L392.8 351.7 L393.3 351.7 L393.8 351.5 L394.3 351.4 L394.8 351.7 L395.3 351.4 L395.8 351.3 L396.3 351.4 L396.8 351.5 L397.3 351.6 L397.8 351.3 L398.3 351.4 L398.8 351.6 M402.0 351.5 L402.5 351.3 L403.0 351.5 L403.5 351.4 L404.0 351.4 L404.5 351.3 L405.0 351.4 L405.5 351.1 L406.0 351.3 L406.5 351.1 L407.0 351.0 L407.5 350.7 L408.0 350.7 L408.5 350.4 L409.0 350.1 L409.5 350.4 L410.0 350.1 L410.5 349.9 L411.0 349.8 L411.5 349.4 L412.0 349.4 L412.5 348.9 L413.0 348.8 L413.5 348.1 L414.0 348.0 L414.5 347.9 L415.0 347.8 L415.5 347.6 L416.0 347.6 L416.5 347.4 L417.0 347.6 L417.5 347.7 L418.0 347.8 L418.5 347.6 L419.0 348.2 L419.5 348.1 L420.0 348.4 L420.5 348.6 L421.0 349.1 L421.5 349.1 L422.0 349.6 L422.5 349.4 L423.0 349.7 L423.5 350.1 L424.0 350.4 L424.5 350.1 L425.0 350.5 L425.5 350.5 L426.0 350.8 L426.5 350.6 L427.0 350.7 L427.5 350.8 L428.0 351.3 L428.5 351.1 L429.0 351.3 L429.5 351.1 L430.0 351.4 L430.5 351.6 L431.0 351.3 L431.5 351.6" fill="none" stroke="#ff1e14" stroke-width="2.7" stroke-linejoin="round" stroke-linecap="round"/>
<path d="M235.5 379.6 L236.0 379.7 L236.5 379.5 L237.0 379.5 L237.5 379.3 L238.0 379.6 L238.5 379.3 L239.0 379.5 L239.5 379.5 L240.0 379.7 L240.5 379.5 L241.0 379.2 L241.5 379.2 L242.0 379.3 L242.5 379.3 L243.0 379.5 L243.5 379.3 L244.0 379.4 L244.5 379.4 L245.0 379.3 L245.5 379.4 L246.0 379.3 L246.5 379.6 L247.0 379.2 L247.5 379.5 L248.0 379.4 L248.5 379.3 L249.0 379.1 L249.5 379.4 L250.0 379.4 L250.5 379.2 L251.0 379.4 L251.5 379.3 L252.0 379.0 L252.5 379.4 L253.0 379.1 L253.5 379.2 L254.0 379.3 L254.5 379.3 L255.0 379.3 L255.5 379.0 L256.0 379.2 L256.5 378.8 L257.0 378.9 L257.5 378.8 L258.0 379.0 L258.5 378.8 L259.0 378.8 L259.5 378.8 L260.0 378.5 L260.5 378.5 L261.0 378.2 L261.5 378.3 L262.0 378.2 L262.5 378.5 L263.0 378.2 L263.5 378.7 L264.0 378.6 L264.5 378.5 L265.0 378.4 L265.5 378.7 L266.0 378.8 L266.5 378.6 L267.0 379.1 L267.5 378.8 L268.0 378.9 L268.5 378.8 L269.0 378.9 L269.5 378.9 L270.0 379.2 L270.5 378.8 L271.0 378.9 L271.5 379.1 L272.0 379.0 L272.5 378.9 L273.0 379.0 L273.5 378.8 L274.0 378.9 L274.5 378.9 L275.0 379.1 L275.5 378.9 L276.0 378.8 L276.5 378.9 L277.0 378.7 L277.5 378.8 L278.0 378.5 L278.5 378.7 L279.0 378.6 L279.5 378.6 L280.0 378.6 L280.5 378.5 L281.0 378.6 L281.5 378.2 L282.0 378.5 L282.5 378.3 L283.0 378.2 L283.5 378.3 L284.0 378.6 L284.5 378.7 L285.0 378.7 L285.5 378.5 L286.0 378.4 L286.5 378.5 L287.0 378.8 L287.5 378.8 L288.0 378.5 L288.5 378.5 L289.0 379.0 L289.5 378.7 L290.0 378.6 L290.5 378.8 L291.0 378.6 L291.5 378.9 L292.0 378.7 L292.5 378.7 L293.0 378.8 L293.5 378.3 L294.0 378.3 L294.5 378.5 L295.0 378.3 L295.5 378.1 L296.0 377.9 L296.5 377.9 L297.0 378.0 L297.5 377.9 L298.0 377.9 L298.5 377.9 L299.0 377.6 L299.5 377.6 L300.0 378.2 L300.5 378.0 L301.0 378.3 L301.5 378.4 L302.0 378.7 L302.5 378.6 L303.0 378.5 L303.5 378.6 L304.0 379.0 L304.5 379.0 L305.0 378.7 L305.5 379.2 L306.0 378.9 L306.5 379.1 L307.0 379.0 L307.5 379.2 L308.0 379.0 L308.5 378.8 L309.0 379.1 L309.5 379.2 L310.0 379.0 L310.5 379.2 L311.0 379.1 L311.5 379.0 L312.0 379.0 L312.5 379.0 L313.0 379.1 L313.5 379.3 L314.0 379.1 L314.5 379.2 L315.0 378.9 L315.5 379.0 L316.0 379.1 L316.5 379.0 L317.0 378.8 L317.5 379.2 L318.0 378.8 L318.5 379.1 L319.0 379.2 L319.5 378.9 L320.0 378.8 L320.5 378.9 L321.0 378.9 L321.5 379.1 L322.0 378.7 L322.5 378.7 L323.0 379.0 L323.5 378.7 L324.0 378.8 L324.5 378.8 L325.0 378.4 L325.5 378.4 L326.0 378.7 L326.5 378.7 L327.0 378.5 L327.5 378.4 L328.0 378.1 L328.5 378.2 L329.0 377.9 L329.5 377.9 L330.0 377.7 L330.5 377.8 L331.0 377.6 L331.5 377.4 L332.0 377.2 L332.5 376.9 L333.0 376.6 L333.5 376.4 L334.0 376.5 L334.5 375.7 L335.0 375.6 L335.5 375.0 L336.0 374.5 L336.5 373.7 L337.0 373.2 L337.5 372.3 L338.0 371.1 L338.5 370.1 L339.0 369.2 L339.5 367.8 L340.0 367.2 L340.5 366.3 L341.0 365.9 L341.5 366.1 L342.0 367.3 L342.5 368.8 L343.0 370.6 L343.5 372.3 L344.0 373.6 L344.5 374.6 L345.0 375.7 L345.5 376.2 L346.0 376.9 L346.5 377.1 L347.0 377.7 L347.5 377.6 L348.0 378.0 L348.5 378.1 L349.0 378.5 L349.5 378.2 L350.0 378.6 L350.5 378.6 L351.0 378.8 L351.5 378.6 L352.0 378.9 L352.5 379.1 L353.0 378.7 L353.5 379.2 L354.0 379.3 L354.5 379.0 L355.0 378.9 L355.5 379.1 L356.0 379.4 L356.5 378.9 L357.0 379.3 L357.5 379.3 L358.0 379.0 L358.5 379.3 L359.0 379.1 L359.5 379.1 L360.0 379.3 L360.5 379.2 L361.0 379.4 L361.5 379.3 L362.0 379.2 L362.5 379.5 L363.0 379.1 L363.5 379.5 L364.0 379.2 L364.5 379.5 M368.3 379.5 L368.8 379.4 L369.3 379.3 L369.8 379.6 L370.3 379.6 L370.8 379.6 L371.3 379.4 L371.8 379.6 L372.3 379.6 L372.8 379.4 L373.3 379.3 L373.8 379.4 L374.3 379.2 L374.8 379.5 L375.3 379.3 L375.8 379.4 L376.3 379.4 L376.8 379.3 L377.3 379.0 L377.8 379.0 L378.3 378.9 L378.8 378.9 L379.3 378.8 L379.8 378.8 L380.3 379.0 L380.8 378.5 L381.3 378.9 L381.8 378.8 L382.3 378.7 L382.8 378.4 L383.3 378.4 L383.8 378.5 L384.3 378.7 L384.8 378.9 L385.3 378.5 L385.8 378.6 L386.3 379.1 L386.8 378.7 L387.3 379.2 L387.8 378.9 L388.3 379.4 L388.8 379.2 L389.3 379.3 L389.8 379.4 L390.3 379.4 L390.8 379.2 L391.3 379.3 L391.8 379.5 L392.3 379.2 L392.8 379.3 L393.3 379.6 L393.8 379.6 L394.3 379.6 L394.8 379.3 L395.3 379.3 L395.8 379.2 L396.3 379.6 L396.8 379.2 L397.3 379.3 L397.8 379.2 L398.3 379.4 L398.8 379.7 M402.0 378.7 L402.5 378.7 L403.0 378.6 L403.5 378.8 L404.0 378.5 L404.5 378.3 L405.0 378.4 L405.5 378.4 L406.0 377.8 L406.5 377.6 L407.0 377.6 L407.5 377.6 L408.0 377.0 L408.5 376.8 L409.0 376.7 L409.5 376.5 L410.0 376.0 L410.5 375.4 L411.0 375.2 L411.5 374.6 L412.0 374.1 L412.5 373.6 L413.0 373.6 L413.5 372.6 L414.0 372.4 L414.5 372.1 L415.0 371.4 L415.5 371.2 L416.0 371.3 L416.5 371.1 L417.0 371.0 L417.5 371.4 L418.0 371.9 L418.5 372.1 L419.0 372.6 L419.5 372.5 L420.0 373.0 L420.5 373.7 L421.0 373.9 L421.5 374.8 L422.0 374.8 L422.5 375.4 L423.0 375.9 L423.5 376.0 L424.0 376.5 L424.5 376.5 L425.0 376.9 L425.5 377.2 L426.0 377.3 L426.5 377.4 L427.0 377.9 L427.5 377.8 L428.0 378.3 L428.5 378.1 L429.0 378.5 L429.5 378.2 L430.0 378.6 L430.5 378.9 L431.0 378.8 L431.5 378.8" fill="none" stroke="#a0246e" stroke-width="2.7" stroke-linejoin="round" stroke-linecap="round"/>
<path d="M235.5 421.6 L236.0 421.6 L236.5 421.5 L237.0 421.2 L237.5 421.2 L238.0 421.4 L238.5 421.2 L239.0 421.1 L239.5 421.4 L240.0 421.6 L240.5 421.2 L241.0 421.5 L241.5 421.6 L242.0 421.6 L242.5 421.1 L243.0 421.2 L243.5 421.6 L244.0 421.6 L244.5 421.2 L245.0 421.2 L245.5 421.5 L246.0 421.2 L246.5 421.2 L247.0 421.2 L247.5 421.4 L248.0 421.3 L248.5 421.5 L249.0 421.2 L249.5 421.5 L250.0 421.5 L250.5 421.3 L251.0 421.4 L251.5 421.4 L252.0 421.2 L252.5 421.6 L253.0 421.3 L253.5 421.4 L254.0 421.5 L254.5 421.1 L255.0 421.2 L255.5 421.1 L256.0 421.5 L256.5 421.2 L257.0 421.4 L257.5 421.4 L258.0 421.6 L258.5 421.2 L259.0 421.3 L259.5 421.5 L260.0 421.3 L260.5 421.2 L261.0 421.4 L261.5 421.5 L262.0 421.3 L262.5 421.3 L263.0 421.1 L263.5 421.3 L264.0 421.5 L264.5 421.2 L265.0 421.5 L265.5 421.2 L266.0 421.3 L266.5 421.5 L267.0 421.5 L267.5 421.5 L268.0 421.3 L268.5 421.3 L269.0 421.1 L269.5 421.3 L270.0 421.5 L270.5 421.1 L271.0 421.2 L271.5 421.1 L272.0 421.3 L272.5 421.3 L273.0 421.5 L273.5 421.4 L274.0 421.5 L274.5 421.1 L275.0 421.3 L275.5 421.4 L276.0 421.1 L276.5 421.3 L277.0 421.3 L277.5 421.0 L278.0 421.1 L278.5 421.4 L279.0 421.1 L279.5 421.3 L280.0 421.2 L280.5 421.2 L281.0 421.4 L281.5 421.2 L282.0 421.4 L282.5 421.4 L283.0 421.2 L283.5 421.0 L284.0 421.1 L284.5 421.4 L285.0 421.1 L285.5 421.2 L286.0 421.0 L286.5 421.3 L287.0 421.2 L287.5 421.3 L288.0 421.2 L288.5 420.9 L289.0 421.2 L289.5 421.1 L290.0 421.3 L290.5 421.0 L291.0 420.9 L291.5 420.9 L292.0 421.0 L292.5 421.0 L293.0 420.9 L293.5 421.0 L294.0 420.8 L294.5 420.6 L295.0 420.8 L295.5 420.7 L296.0 420.3 L296.5 420.4 L297.0 420.5 L297.5 420.3 L298.0 420.0 L298.5 420.3 L299.0 420.2 L299.5 419.9 L300.0 420.1 L300.5 420.2 L301.0 420.1 L301.5 420.3 L302.0 420.2 L302.5 420.0 L303.0 420.4 L303.5 420.5 L304.0 420.7 L304.5 420.6 L305.0 420.8 L305.5 420.8 L306.0 420.6 L306.5 420.5 L307.0 420.6 L307.5 420.5 L308.0 421.0 L308.5 421.0 L309.0 421.0 L309.5 421.0 L310.0 420.8 L310.5 420.9 L311.0 420.6 L311.5 420.7 L312.0 420.8 L312.5 420.6 L313.0 420.8 L313.5 420.9 L314.0 420.7 L314.5 420.7 L315.0 420.6 L315.5 420.8 L316.0 421.0 L316.5 420.8 L317.0 420.9 L317.5 420.9 L318.0 420.9 L318.5 420.9 L319.0 420.7 L319.5 420.5 L320.0 420.5 L320.5 420.5 L321.0 420.5 L321.5 420.6 L322.0 420.6 L322.5 420.4 L323.0 420.3 L323.5 420.6 L324.0 420.6 L324.5 420.4 L325.0 420.1 L325.5 420.3 L326.0 420.3 L326.5 420.1 L327.0 420.1 L327.5 420.1 L328.0 419.8 L328.5 419.8 L329.0 419.4 L329.5 419.6 L330.0 419.3 L330.5 419.0 L331.0 419.0 L331.5 418.9 L332.0 418.4 L332.5 418.1 L333.0 418.0 L333.5 417.7 L334.0 417.3 L334.5 416.4 L335.0 415.9 L335.5 415.2 L336.0 414.2 L336.5 413.4 L337.0 412.0 L337.5 410.6 L338.0 409.0 L338.5 406.6 L339.0 404.0 L339.5 400.3 L340.0 396.5 L340.5 392.1 L341.0 388.2 L341.5 384.4 L342.0 382.4 L342.5 383.1 L343.0 386.8 L343.5 392.0 L344.0 397.4 L344.5 402.1 L345.0 405.7 L345.5 408.5 L346.0 411.1 L346.5 412.6 L347.0 413.9 L347.5 415.1 L348.0 416.2 L348.5 416.9 L349.0 417.3 L349.5 417.7 L350.0 418.1 L350.5 418.7 L351.0 418.9 L351.5 419.2 L352.0 419.5 L352.5 419.6 L353.0 419.9 L353.5 420.0 L354.0 420.0 L354.5 420.0 L355.0 420.2 L355.5 420.1 L356.0 420.2 L356.5 420.5 L357.0 420.4 L357.5 420.3 L358.0 420.5 L358.5 420.5 L359.0 420.5 L359.5 420.5 L360.0 420.8 L360.5 420.9 L361.0 421.0 L361.5 420.9 L362.0 420.7 L362.5 421.0 L363.0 420.8 L363.5 420.8 L364.0 420.9 L364.5 420.8 M368.3 421.0 L368.8 421.4 L369.3 420.9 L369.8 421.3 L370.3 421.2 L370.8 421.2 L371.3 420.8 L371.8 421.1 L372.3 420.8 L372.8 420.9 L373.3 420.8 L373.8 421.0 L374.3 420.6 L374.8 420.5 L375.3 420.7 L375.8 420.6 L376.3 420.5 L376.8 420.1 L377.3 420.1 L377.8 420.1 L378.3 419.9 L378.8 419.5 L379.3 419.1 L379.8 418.8 L380.3 418.9 L380.8 418.2 L381.3 417.7 L381.8 417.4 L382.3 417.0 L382.8 416.9 L383.3 416.6 L383.8 416.9 L384.3 417.2 L384.8 417.5 L385.3 417.9 L385.8 418.2 L386.3 418.6 L386.8 419.2 L387.3 419.2 L387.8 419.8 L388.3 419.7 L388.8 420.0 L389.3 420.4 L389.8 420.4 L390.3 420.3 L390.8 420.5 L391.3 420.5 L391.8 420.8 L392.3 420.7 L392.8 421.0 L393.3 421.0 L393.8 421.1 L394.3 421.0 L394.8 420.9 L395.3 421.1 L395.8 421.0 L396.3 420.8 L396.8 421.1 L397.3 421.0 L397.8 420.9 L398.3 421.0 L398.8 421.4 M402.0 420.9 L402.5 420.7 L403.0 420.6 L403.5 420.4 L404.0 420.4 L404.5 420.1 L405.0 420.3 L405.5 420.1 L406.0 419.8 L406.5 419.6 L407.0 419.4 L407.5 419.3 L408.0 419.1 L408.5 418.9 L409.0 418.2 L409.5 418.3 L410.0 417.6 L410.5 417.1 L411.0 416.9 L411.5 416.5 L412.0 415.8 L412.5 415.5 L413.0 415.2 L413.5 414.6 L414.0 414.1 L414.5 413.3 L415.0 413.0 L415.5 412.7 L416.0 412.6 L416.5 412.8 L417.0 412.9 L417.5 412.7 L418.0 413.2 L418.5 413.5 L419.0 414.1 L419.5 414.3 L420.0 414.6 L420.5 415.1 L421.0 415.6 L421.5 416.2 L422.0 416.4 L422.5 417.1 L423.0 417.2 L423.5 417.5 L424.0 418.2 L424.5 418.4 L425.0 418.8 L425.5 418.9 L426.0 419.1 L426.5 419.1 L427.0 419.7 L427.5 419.8 L428.0 419.7 L428.5 419.8 L429.0 420.2 L429.5 420.5 L430.0 420.5 L430.5 420.7 L431.0 420.8 L431.5 420.5" fill="none" stroke="#8e2284" stroke-width="2.7" stroke-linejoin="round" stroke-linecap="round"/>
<path d="M235.5 458.1 L236.0 458.3 L236.5 458.1 L237.0 458.3 L237.5 458.4 L238.0 458.1 L238.5 458.4 L239.0 458.1 L239.5 458.4 L240.0 458.1 L240.5 458.1 L241.0 458.0 L241.5 458.3 L242.0 458.0 L242.5 458.4 L243.0 458.2 L243.5 458.5 L244.0 458.2 L244.5 458.4 L245.0 458.4 L245.5 458.2 L246.0 458.4 L246.5 458.3 L247.0 458.3 L247.5 458.2 L248.0 458.1 L248.5 458.3 L249.0 458.3 L249.5 458.2 L250.0 458.5 L250.5 458.1 L251.0 458.5 L251.5 458.3 L252.0 458.1 L252.5 458.3 L253.0 458.1 L253.5 458.3 L254.0 458.2 L254.5 458.4 L255.0 458.5 L255.5 458.0 L256.0 458.4 L256.5 458.5 L257.0 458.1 L257.5 458.0 L258.0 458.2 L258.5 458.0 L259.0 458.1 L259.5 458.2 L260.0 458.1 L260.5 458.3 L261.0 458.1 L261.5 458.3 L262.0 458.3 L262.5 458.0 L263.0 458.3 L263.5 458.4 L264.0 458.5 L264.5 458.0 L265.0 458.3 L265.5 458.1 L266.0 458.2 L266.5 458.2 L267.0 458.0 L267.5 458.3 L268.0 458.0 L268.5 458.4 L269.0 458.0 L269.5 458.3 L270.0 458.2 L270.5 458.0 L271.0 458.0 L271.5 458.2 L272.0 458.2 L272.5 458.0 L273.0 458.0 L273.5 458.1 L274.0 458.4 L274.5 458.0 L275.0 458.3 L275.5 458.0 L276.0 458.4 L276.5 458.3 L277.0 458.4 L277.5 458.1 L278.0 458.4 L278.5 458.1 L279.0 458.2 L279.5 458.3 L280.0 458.0 L280.5 457.9 L281.0 458.3 L281.5 458.0 L282.0 458.0 L282.5 458.1 L283.0 458.0 L283.5 458.0 L284.0 458.0 L284.5 457.9 L285.0 458.3 L285.5 458.3 L286.0 458.2 L286.5 458.0 L287.0 458.3 L287.5 458.1 L288.0 458.0 L288.5 457.8 L289.0 457.9 L289.5 457.8 L290.0 458.0 L290.5 458.1 L291.0 457.9 L291.5 457.7 L292.0 457.9 L292.5 457.5 L293.0 457.8 L293.5 457.3 L294.0 457.7 L294.5 457.5 L295.0 457.5 L295.5 457.2 L296.0 457.1 L296.5 456.9 L297.0 457.0 L297.5 456.8 L298.0 456.7 L298.5 456.9 L299.0 457.1 L299.5 456.8 L300.0 456.9 L300.5 457.4 L301.0 457.2 L301.5 457.3 L302.0 457.5 L302.5 457.4 L303.0 457.6 L303.5 457.5 L304.0 457.7 L304.5 457.9 L305.0 457.9 L305.5 458.0 L306.0 458.0 L306.5 457.7 L307.0 458.0 L307.5 458.0 L308.0 457.9 L308.5 457.9 L309.0 458.1 L309.5 457.9 L310.0 458.1 L310.5 457.7 L311.0 457.8 L311.5 457.7 L312.0 458.0 L312.5 457.9 L313.0 457.8 L313.5 457.8 L314.0 457.9 L314.5 457.8 L315.0 457.9 L315.5 457.9 L316.0 457.6 L316.5 457.7 L317.0 457.8 L317.5 457.9 L318.0 457.8 L318.5 457.9 L319.0 457.7 L319.5 457.9 L320.0 457.8 L320.5 457.7 L321.0 457.7 L321.5 457.8 L322.0 457.5 L322.5 457.5 L323.0 457.5 L323.5 457.5 L324.0 457.2 L324.5 457.4 L325.0 457.6 L325.5 457.5 L326.0 457.3 L326.5 457.3 L327.0 457.1 L327.5 456.9 L328.0 457.2 L328.5 456.9 L329.0 456.9 L329.5 456.8 L330.0 456.8 L330.5 456.3 L331.0 456.3 L331.5 456.2 L332.0 456.0 L332.5 455.9 L333.0 455.2 L333.5 455.3 L334.0 454.6 L334.5 454.3 L335.0 453.9 L335.5 453.6 L336.0 453.0 L336.5 452.0 L337.0 451.1 L337.5 450.0 L338.0 448.3 L338.5 446.8 L339.0 444.7 L339.5 442.0 L340.0 439.1 L340.5 435.7 L341.0 431.9 L341.5 428.5 L342.0 426.0 L342.5 425.2 L343.0 426.6 L343.5 429.9 L344.0 434.6 L344.5 438.8 L345.0 442.2 L345.5 445.2 L346.0 447.9 L346.5 449.3 L347.0 451.0 L347.5 452.1 L348.0 453.1 L348.5 453.9 L349.0 454.5 L349.5 454.6 L350.0 455.3 L350.5 455.7 L351.0 455.9 L351.5 456.3 L352.0 456.1 L352.5 456.5 L353.0 456.9 L353.5 456.7 L354.0 456.8 L354.5 456.9 L355.0 457.1 L355.5 457.2 L356.0 457.3 L356.5 457.2 L357.0 457.4 L357.5 457.7 L358.0 457.4 L358.5 457.4 L359.0 457.8 L359.5 457.8 L360.0 457.8 L360.5 457.9 L361.0 458.0 L361.5 457.7 L362.0 457.5 L362.5 457.9 L363.0 457.9 L363.5 457.8 L364.0 458.1 L364.5 458.1 M368.3 458.1 L368.8 458.1 L369.3 458.0 L369.8 457.9 L370.3 457.9 L370.8 458.1 L371.3 458.0 L371.8 458.0 L372.3 458.0 L372.8 458.1 L373.3 457.7 L373.8 457.7 L374.3 458.0 L374.8 457.6 L375.3 457.8 L375.8 457.7 L376.3 457.7 L376.8 457.6 L377.3 457.4 L377.8 457.4 L378.3 457.5 L378.8 457.3 L379.3 457.0 L379.8 457.0 L380.3 456.6 L380.8 456.7 L381.3 456.0 L381.8 456.1 L382.3 455.9 L382.8 455.7 L383.3 455.2 L383.8 455.0 L384.3 454.9 L384.8 454.8 L385.3 454.7 L385.8 454.9 L386.3 454.9 L386.8 455.0 L387.3 455.3 L387.8 455.6 L388.3 456.0 L388.8 456.1 L389.3 456.7 L389.8 456.8 L390.3 456.9 L390.8 456.9 L391.3 457.2 L391.8 457.5 L392.3 457.6 L392.8 457.6 L393.3 457.5 L393.8 457.8 L394.3 457.7 L394.8 457.7 L395.3 458.0 L395.8 457.9 L396.3 457.6 L396.8 457.7 L397.3 457.9 L397.8 458.1 L398.3 457.9 L398.8 458.0 M402.0 457.5 L402.5 457.6 L403.0 457.4 L403.5 457.3 L404.0 457.1 L404.5 457.2 L405.0 457.1 L405.5 456.8 L406.0 456.7 L406.5 456.5 L407.0 456.4 L407.5 456.1 L408.0 455.5 L408.5 455.7 L409.0 455.2 L409.5 454.7 L410.0 454.6 L410.5 454.2 L411.0 453.6 L411.5 453.3 L412.0 452.5 L412.5 452.3 L413.0 451.8 L413.5 451.3 L414.0 450.6 L414.5 450.4 L415.0 449.8 L415.5 449.3 L416.0 449.1 L416.5 449.2 L417.0 449.2 L417.5 449.4 L418.0 449.6 L418.5 450.3 L419.0 450.8 L419.5 451.3 L420.0 451.5 L420.5 452.0 L421.0 452.5 L421.5 453.0 L422.0 453.5 L422.5 453.8 L423.0 454.0 L423.5 454.5 L424.0 454.6 L424.5 455.3 L425.0 455.7 L425.5 455.8 L426.0 456.1 L426.5 456.2 L427.0 456.6 L427.5 456.4 L428.0 456.7 L428.5 456.8 L429.0 457.0 L429.5 457.0 L430.0 457.4 L430.5 457.3 L431.0 457.3 L431.5 457.7" fill="none" stroke="#6e22a6" stroke-width="2.7" stroke-linejoin="round" stroke-linecap="round"/>
<path d="M235.5 497.8 L236.0 497.9 L236.5 498.3 L237.0 498.2 L237.5 497.9 L238.0 497.9 L238.5 498.2 L239.0 498.2 L239.5 498.3 L240.0 498.3 L240.5 498.2 L241.0 497.9 L241.5 498.2 L242.0 498.0 L242.5 498.1 L243.0 497.8 L243.5 497.8 L244.0 498.1 L244.5 498.1 L245.0 498.0 L245.5 498.3 L246.0 497.8 L246.5 498.3 L247.0 498.3 L247.5 497.9 L248.0 498.2 L248.5 498.1 L249.0 498.0 L249.5 498.0 L250.0 498.1 L250.5 498.3 L251.0 498.2 L251.5 498.0 L252.0 498.0 L252.5 497.9 L253.0 498.1 L253.5 498.2 L254.0 498.1 L254.5 498.1 L255.0 498.0 L255.5 498.3 L256.0 498.2 L256.5 498.1 L257.0 498.1 L257.5 498.2 L258.0 497.9 L258.5 498.1 L259.0 497.9 L259.5 498.2 L260.0 498.0 L260.5 498.3 L261.0 498.1 L261.5 498.1 L262.0 498.1 L262.5 498.1 L263.0 497.9 L263.5 497.8 L264.0 498.0 L264.5 497.9 L265.0 498.0 L265.5 497.9 L266.0 497.9 L266.5 498.3 L267.0 498.0 L267.5 498.2 L268.0 497.9 L268.5 497.8 L269.0 498.1 L269.5 498.0 L270.0 498.2 L270.5 497.8 L271.0 498.0 L271.5 498.1 L272.0 497.9 L272.5 498.1 L273.0 497.9 L273.5 497.8 L274.0 497.9 L274.5 497.8 L275.0 498.0 L275.5 498.2 L276.0 497.9 L276.5 497.9 L277.0 497.9 L277.5 497.9 L278.0 498.2 L278.5 498.2 L279.0 497.8 L279.5 498.1 L280.0 498.2 L280.5 497.8 L281.0 498.0 L281.5 497.8 L282.0 497.9 L282.5 497.8 L283.0 498.0 L283.5 497.9 L284.0 498.1 L284.5 497.9 L285.0 497.8 L285.5 498.0 L286.0 498.0 L286.5 498.1 L287.0 498.1 L287.5 497.9 L288.0 497.9 L288.5 498.1 L289.0 498.2 L289.5 498.0 L290.0 498.0 L290.5 497.9 L291.0 497.9 L291.5 497.9 L292.0 498.0 L292.5 497.9 L293.0 497.9 L293.5 497.7 L294.0 497.8 L294.5 498.1 L295.0 497.9 L295.5 498.2 L296.0 497.8 L296.5 497.9 L297.0 498.1 L297.5 497.9 L298.0 498.0 L298.5 498.1 L299.0 497.9 L299.5 497.8 L300.0 497.7 L300.5 498.1 L301.0 498.0 L301.5 498.1 L302.0 498.1 L302.5 498.1 L303.0 497.9 L303.5 497.7 L304.0 497.9 L304.5 497.9 L305.0 497.7 L305.5 497.6 L306.0 497.8 L306.5 497.8 L307.0 498.0 L307.5 498.1 L308.0 498.0 L308.5 497.7 L309.0 498.0 L309.5 497.8 L310.0 497.7 L310.5 497.8 L311.0 497.6 L311.5 497.9 L312.0 497.5 L312.5 497.8 L313.0 497.9 L313.5 497.5 L314.0 497.8 L314.5 497.7 L315.0 497.6 L315.5 497.8 L316.0 497.6 L316.5 497.5 L317.0 497.6 L317.5 497.5 L318.0 497.7 L318.5 497.4 L319.0 497.5 L319.5 497.7 L320.0 497.5 L320.5 497.4 L321.0 497.3 L321.5 497.3 L322.0 497.4 L322.5 497.5 L323.0 497.5 L323.5 497.3 L324.0 497.2 L324.5 497.3 L325.0 497.1 L325.5 496.9 L326.0 497.1 L326.5 497.1 L327.0 496.7 L327.5 496.9 L328.0 496.5 L328.5 496.4 L329.0 496.4 L329.5 496.6 L330.0 496.2 L330.5 496.0 L331.0 495.8 L331.5 495.7 L332.0 495.6 L332.5 495.3 L333.0 495.2 L333.5 494.5 L334.0 494.5 L334.5 494.2 L335.0 493.5 L335.5 493.0 L336.0 492.4 L336.5 491.6 L337.0 490.4 L337.5 489.3 L338.0 488.0 L338.5 485.9 L339.0 483.9 L339.5 481.5 L340.0 478.0 L340.5 474.1 L341.0 469.6 L341.5 464.8 L342.0 460.5 L342.5 457.1 L343.0 456.6 L343.5 459.1 L344.0 464.5 L344.5 470.2 L345.0 475.3 L345.5 479.7 L346.0 483.6 L346.5 485.8 L347.0 488.2 L347.5 489.5 L348.0 491.0 L348.5 492.2 L349.0 493.0 L349.5 493.7 L350.0 494.0 L350.5 494.6 L351.0 495.2 L351.5 495.2 L352.0 495.6 L352.5 495.9 L353.0 496.2 L353.5 496.4 L354.0 496.5 L354.5 496.4 L355.0 496.8 L355.5 497.0 L356.0 496.6 L356.5 497.1 L357.0 497.0 L357.5 497.0 L358.0 497.2 L358.5 497.4 L359.0 497.5 L359.5 497.5 L360.0 497.6 L360.5 497.6 L361.0 497.4 L361.5 497.6 L362.0 497.7 L362.5 497.6 L363.0 497.3 L363.5 497.5 L364.0 497.7 L364.5 497.4 M368.3 497.7 L368.8 498.0 L369.3 497.9 L369.8 497.6 L370.3 497.9 L370.8 497.8 L371.3 497.7 L371.8 497.8 L372.3 497.5 L372.8 497.5 L373.3 497.7 L373.8 497.7 L374.3 497.6 L374.8 497.5 L375.3 497.3 L375.8 497.2 L376.3 497.6 L376.8 497.2 L377.3 497.1 L377.8 497.1 L378.3 496.7 L378.8 496.8 L379.3 496.5 L379.8 496.3 L380.3 496.5 L380.8 495.9 L381.3 495.7 L381.8 495.5 L382.3 495.4 L382.8 495.1 L383.3 494.7 L383.8 494.5 L384.3 494.3 L384.8 493.9 L385.3 494.2 L385.8 494.5 L386.3 494.6 L386.8 494.9 L387.3 494.8 L387.8 495.4 L388.3 495.9 L388.8 495.8 L389.3 496.0 L389.8 496.6 L390.3 496.4 L390.8 496.6 L391.3 497.0 L391.8 496.9 L392.3 497.2 L392.8 497.1 L393.3 497.1 L393.8 497.4 L394.3 497.4 L394.8 497.6 L395.3 497.6 L395.8 497.4 L396.3 497.5 L396.8 497.4 L397.3 497.5 L397.8 497.8 L398.3 497.7 L398.8 497.5 M402.0 497.2 L402.5 497.6 L403.0 497.4 L403.5 497.0 L404.0 497.2 L404.5 497.2 L405.0 496.6 L405.5 496.5 L406.0 496.6 L406.5 496.5 L407.0 496.0 L407.5 495.9 L408.0 495.6 L408.5 495.3 L409.0 495.3 L409.5 494.8 L410.0 494.5 L410.5 494.2 L411.0 493.8 L411.5 493.2 L412.0 492.4 L412.5 492.1 L413.0 491.9 L413.5 491.1 L414.0 490.4 L414.5 490.3 L415.0 489.8 L415.5 489.6 L416.0 489.4 L416.5 489.2 L417.0 489.3 L417.5 489.4 L418.0 489.8 L418.5 490.2 L419.0 490.4 L419.5 490.8 L420.0 491.6 L420.5 492.0 L421.0 492.6 L421.5 492.9 L422.0 493.1 L422.5 493.7 L423.0 494.0 L423.5 494.7 L424.0 494.6 L424.5 495.2 L425.0 495.4 L425.5 495.5 L426.0 495.9 L426.5 495.8 L427.0 496.1 L427.5 496.5 L428.0 496.3 L428.5 496.7 L429.0 497.0 L429.5 497.2 L430.0 497.2 L430.5 497.3 L431.0 497.2 L431.5 497.3" fill="none" stroke="#4a1ae6" stroke-width="2.7" stroke-linejoin="round" stroke-linecap="round"/>
<path d="M235.5 546.6 L236.0 546.5 L236.5 546.5 L237.0 546.5 L237.5 546.5 L238.0 546.6 L238.5 546.6 L239.0 546.7 L239.5 546.8 L240.0 546.6 L240.5 546.7 L241.0 546.8 L241.5 546.7 L242.0 546.8 L242.5 546.9 L243.0 546.9 L243.5 546.6 L244.0 546.8 L244.5 546.9 L245.0 546.5 L245.5 546.5 L246.0 546.8 L246.5 546.8 L247.0 546.5 L247.5 546.9 L248.0 546.7 L248.5 546.9 L249.0 546.7 L249.5 546.8 L250.0 546.5 L250.5 546.8 L251.0 546.6 L251.5 546.5 L252.0 546.6 L252.5 546.8 L253.0 546.9 L253.5 546.8 L254.0 546.9 L254.5 546.8 L255.0 546.6 L255.5 546.5 L256.0 546.9 L256.5 546.6 L257.0 546.9 L257.5 546.8 L258.0 546.8 L258.5 546.7 L259.0 546.5 L259.5 546.7 L260.0 546.7 L260.5 546.5 L261.0 546.6 L261.5 546.8 L262.0 546.5 L262.5 546.4 L263.0 546.5 L263.5 546.6 L264.0 546.6 L264.5 546.7 L265.0 546.5 L265.5 546.6 L266.0 546.9 L266.5 546.8 L267.0 546.8 L267.5 546.6 L268.0 546.7 L268.5 546.8 L269.0 546.5 L269.5 546.6 L270.0 546.5 L270.5 546.6 L271.0 546.6 L271.5 546.7 L272.0 546.6 L272.5 546.7 L273.0 546.7 L273.5 546.7 L274.0 546.6 L274.5 546.6 L275.0 546.5 L275.5 546.7 L276.0 546.6 L276.5 546.5 L277.0 546.8 L277.5 546.6 L278.0 546.4 L278.5 546.7 L279.0 546.6 L279.5 546.6 L280.0 546.7 L280.5 546.6 L281.0 546.8 L281.5 546.5 L282.0 546.8 L282.5 546.8 L283.0 546.5 L283.5 546.4 L284.0 546.5 L284.5 546.6 L285.0 546.8 L285.5 546.6 L286.0 546.5 L286.5 546.7 L287.0 546.8 L287.5 546.8 L288.0 546.6 L288.5 546.5 L289.0 546.6 L289.5 546.6 L290.0 546.5 L290.5 546.4 L291.0 546.8 L291.5 546.5 L292.0 546.8 L292.5 546.6 L293.0 546.4 L293.5 546.8 L294.0 546.8 L294.5 546.4 L295.0 546.7 L295.5 546.4 L296.0 546.8 L296.5 546.4 L297.0 546.6 L297.5 546.7 L298.0 546.6 L298.5 546.8 L299.0 546.4 L299.5 546.8 L300.0 546.6 L300.5 546.4 L301.0 546.3 L301.5 546.4 L302.0 546.4 L302.5 546.5 L303.0 546.4 L303.5 546.4 L304.0 546.7 L304.5 546.6 L305.0 546.4 L305.5 546.3 L306.0 546.3 L306.5 546.4 L307.0 546.3 L307.5 546.3 L308.0 546.7 L308.5 546.4 L309.0 546.6 L309.5 546.3 L310.0 546.3 L310.5 546.2 L311.0 546.5 L311.5 546.6 L312.0 546.6 L312.5 546.4 L313.0 546.6 L313.5 546.4 L314.0 546.4 L314.5 546.3 L315.0 546.3 L315.5 546.4 L316.0 546.3 L316.5 546.2 L317.0 546.2 L317.5 546.1 L318.0 546.2 L318.5 546.5 L319.0 546.3 L319.5 546.1 L320.0 546.2 L320.5 546.2 L321.0 546.0 L321.5 546.2 L322.0 546.0 L322.5 545.9 L323.0 545.9 L323.5 545.9 L324.0 546.1 L324.5 545.7 L325.0 545.9 L325.5 545.9 L326.0 545.9 L326.5 545.5 L327.0 545.8 L327.5 545.5 L328.0 545.3 L328.5 545.5 L329.0 545.4 L329.5 545.4 L330.0 544.9 L330.5 545.0 L331.0 544.9 L331.5 544.5 L332.0 544.4 L332.5 543.9 L333.0 543.6 L333.5 543.3 L334.0 542.8 L334.5 542.3 L335.0 541.8 L335.5 541.2 L336.0 540.2 L336.5 539.1 L337.0 537.6 L337.5 535.9 L338.0 533.5 L338.5 530.1 L339.0 525.7 L339.5 520.2 L340.0 513.3 L340.5 505.4 L341.0 498.2 L341.5 494.0 L342.0 495.8 L342.5 502.4 L343.0 510.5 L343.5 517.7 L344.0 523.9 L344.5 528.6 L345.0 532.1 L345.5 534.9 L346.0 536.7 L346.5 538.8 L347.0 539.7 L347.5 541.0 L348.0 541.8 L348.5 542.2 L349.0 542.6 L349.5 543.1 L350.0 543.8 L350.5 543.7 L351.0 544.1 L351.5 544.3 L352.0 544.6 L352.5 545.1 L353.0 544.9 L353.5 545.3 L354.0 545.3 L354.5 545.1 L355.0 545.4 L355.5 545.4 L356.0 545.4 L356.5 545.5 L357.0 545.6 L357.5 546.0 L358.0 545.9 L358.5 545.9 L359.0 545.8 L359.5 546.0 L360.0 545.9 L360.5 545.8 L361.0 545.9 L361.5 546.3 L362.0 546.2 L362.5 546.3 L363.0 546.2 L363.5 546.3 L364.0 546.0 L364.5 546.3 M368.3 546.6 L368.8 546.5 L369.3 546.4 L369.8 546.5 L370.3 546.5 L370.8 546.3 L371.3 546.2 L371.8 546.4 L372.3 546.4 L372.8 546.5 L373.3 546.0 L373.8 546.2 L374.3 546.3 L374.8 545.8 L375.3 546.1 L375.8 546.0 L376.3 546.0 L376.8 545.8 L377.3 545.7 L377.8 545.7 L378.3 545.2 L378.8 544.9 L379.3 545.1 L379.8 544.5 L380.3 544.2 L380.8 543.8 L381.3 543.8 L381.8 543.3 L382.3 542.6 L382.8 542.2 L383.3 541.5 L383.8 541.2 L384.3 541.4 L384.8 541.4 L385.3 541.6 L385.8 542.4 L386.3 542.5 L386.8 543.4 L387.3 543.6 L387.8 544.0 L388.3 544.4 L388.8 544.9 L389.3 545.1 L389.8 545.0 L390.3 545.3 L390.8 545.6 L391.3 545.9 L391.8 545.8 L392.3 546.0 L392.8 546.1 L393.3 546.2 L393.8 546.0 L394.3 546.0 L394.8 546.3 L395.3 546.1 L395.8 546.3 L396.3 546.3 L396.8 546.4 L397.3 546.6 L397.8 546.2 L398.3 546.2 L398.8 546.6 M402.0 545.9 L402.5 545.9 L403.0 545.7 L403.5 545.9 L404.0 545.6 L404.5 545.6 L405.0 545.2 L405.5 545.0 L406.0 545.0 L406.5 544.6 L407.0 544.3 L407.5 544.6 L408.0 544.2 L408.5 543.6 L409.0 543.4 L409.5 542.9 L410.0 542.5 L410.5 542.4 L411.0 542.0 L411.5 541.6 L412.0 541.1 L412.5 540.3 L413.0 539.5 L413.5 539.3 L414.0 538.7 L414.5 538.0 L415.0 537.7 L415.5 537.4 L416.0 537.6 L416.5 537.2 L417.0 537.6 L417.5 537.6 L418.0 538.0 L418.5 538.4 L419.0 538.5 L419.5 539.3 L420.0 539.9 L420.5 539.9 L421.0 540.5 L421.5 541.0 L422.0 541.6 L422.5 542.1 L423.0 542.6 L423.5 542.8 L424.0 543.4 L424.5 543.5 L425.0 543.8 L425.5 544.0 L426.0 544.3 L426.5 544.5 L427.0 544.8 L427.5 544.8 L428.0 544.9 L428.5 545.0 L429.0 545.2 L429.5 545.3 L430.0 545.6 L430.5 545.9 L431.0 546.0 L431.5 545.7" fill="none" stroke="#1a14f4" stroke-width="2.7" stroke-linejoin="round" stroke-linecap="round"/>
<rect x="234.7" y="228.5" width="197.8" height="332.0" fill="none" stroke="#000" stroke-width="2.1"/>
<path d="M265.9 560.5 v-5.6 M265.9 228.5 v5.6 M296.2 560.5 v-5.6 M296.2 228.5 v5.6 M326.5 560.5 v-5.6 M326.5 228.5 v5.6 M356.8 560.5 v-5.6 M356.8 228.5 v5.6 M383.0 560.5 v-5.6 M383.0 228.5 v5.6 M416.8 560.5 v-5.6 M416.8 228.5 v5.6 M250.7 560.5 v-2.8 M250.7 228.5 v2.8 M281.0 560.5 v-2.8 M281.0 228.5 v2.8 M311.3 560.5 v-2.8 M311.3 228.5 v2.8 M341.6 560.5 v-2.8 M341.6 228.5 v2.8 M234.7 240.6 h6.3 M432.5 240.6 h-6.3 M234.7 265.2 h6.3 M432.5 265.2 h-6.3 M234.7 289.8 h6.3 M432.5 289.8 h-6.3 M234.7 314.5 h6.3 M432.5 314.5 h-6.3 M234.7 339.1 h6.3 M432.5 339.1 h-6.3 M234.7 363.7 h6.3 M432.5 363.7 h-6.3 M234.7 388.3 h6.3 M432.5 388.3 h-6.3 M234.7 412.9 h6.3 M432.5 412.9 h-6.3 M234.7 437.6 h6.3 M432.5 437.6 h-6.3 M234.7 462.2 h6.3 M432.5 462.2 h-6.3 M234.7 486.8 h6.3 M432.5 486.8 h-6.3 M234.7 511.4 h6.3 M432.5 511.4 h-6.3 M234.7 536.0 h6.3 M432.5 536.0 h-6.3 M234.7 252.9 h3.3 M432.5 252.9 h-3.3 M234.7 277.5 h3.3 M432.5 277.5 h-3.3 M234.7 302.1 h3.3 M432.5 302.1 h-3.3 M234.7 326.8 h3.3 M432.5 326.8 h-3.3 M234.7 351.4 h3.3 M432.5 351.4 h-3.3 M234.7 376.0 h3.3 M432.5 376.0 h-3.3 M234.7 400.6 h3.3 M432.5 400.6 h-3.3 M234.7 425.2 h3.3 M432.5 425.2 h-3.3 M234.7 449.9 h3.3 M432.5 449.9 h-3.3 M234.7 474.5 h3.3 M432.5 474.5 h-3.3 M234.7 499.1 h3.3 M432.5 499.1 h-3.3 M234.7 523.7 h3.3 M432.5 523.7 h-3.3 M234.7 548.3 h3.3 M432.5 548.3 h-3.3" stroke="#000" stroke-width="1.8" fill="none"/>
<rect x="364.9" y="226.9" width="3.2" height="3.2" fill="#fff"/>
<path d="M362.6 233.8 l4.4 -10.6 M366.1 233.8 l4.4 -10.6" stroke="#000" stroke-width="1.9" fill="none"/>
<rect x="399.0" y="226.9" width="3.2" height="3.2" fill="#fff"/>
<path d="M396.70000000000005 233.8 l4.4 -10.6 M400.20000000000005 233.8 l4.4 -10.6" stroke="#000" stroke-width="1.9" fill="none"/>
<rect x="364.9" y="558.9" width="3.2" height="3.2" fill="#fff"/>
<path d="M362.6 565.8 l4.4 -10.6 M366.1 565.8 l4.4 -10.6" stroke="#000" stroke-width="1.9" fill="none"/>
<rect x="399.0" y="558.9" width="3.2" height="3.2" fill="#fff"/>
<path d="M396.70000000000005 565.8 l4.4 -10.6 M400.20000000000005 565.8 l4.4 -10.6" stroke="#000" stroke-width="1.9" fill="none"/>
<text transform="translate(235.7 578.8) scale(1 1.04)" font-size="13.1" fill="#1a1a1a" stroke="#1a1a1a" text-anchor="middle" >220</text>
<text transform="translate(265.8 578.8) scale(1 1.04)" font-size="13.1" fill="#1a1a1a" stroke="#1a1a1a" text-anchor="middle" >240</text>
<text transform="translate(296.0 578.8) scale(1 1.04)" font-size="13.1" fill="#1a1a1a" stroke="#1a1a1a" text-anchor="middle" >260</text>
<text transform="translate(326.3 578.8) scale(1 1.04)" font-size="13.1" fill="#1a1a1a" stroke="#1a1a1a" text-anchor="middle" >280</text>
<text transform="translate(356.5 578.8) scale(1 1.04)" font-size="13.1" fill="#1a1a1a" stroke="#1a1a1a" text-anchor="middle" >300</text>
<text transform="translate(384.6 578.8) scale(1 1.04)" font-size="13.1" fill="#1a1a1a" stroke="#1a1a1a" text-anchor="middle" >350</text>
<text transform="translate(418.4 578.8) scale(1 1.04)" font-size="13.1" fill="#1a1a1a" stroke="#1a1a1a" text-anchor="middle" >520</text>
<text transform="translate(283.8 594.5) scale(1 1.07)" font-size="14.05" fill="#1a1a1a" stroke="#1a1a1a" text-anchor="start" >Raman shift [cm<tspan font-size="7.5" dy="-6" dx="0.5">-1</tspan><tspan dy="6" dx="0.8">]</tspan></text>
<text transform="translate(222.2 399.2) rotate(-90)" font-size="14.6" fill="#222" stroke="#222" text-anchor="middle">Norm. Intensity [arb. u.]</text>
<text x="209.8" y="243.8" font-size="18" fill="#222" stroke="#222" text-anchor="start" >e)</text>
<text x="269.6" y="307.9" font-size="14" fill="#ff1e14" stroke="#ff1e14" text-anchor="start" >A<tspan font-size="7.6" dy="3.3" dx="0.2">1g</tspan></text>
<text x="332.4" y="342.8" font-size="14" fill="#ff1e14" stroke="#ff1e14" text-anchor="start" >E<tspan font-size="7.6" dy="-6.4" dx="0.6">1</tspan><tspan font-size="7.6" dy="10.4" dx="-4.4">2g</tspan></text>
<text x="373.4" y="348.4" font-size="12.5" fill="#ff1e14" stroke="#ff1e14" text-anchor="start" >x0.5</text>
<text x="410.8" y="342.6" font-size="12" fill="#333" stroke="#333" text-anchor="start" >Si</text>
<text x="347.3" y="514.4" font-size="14" fill="#1a14f4" stroke="#1a14f4" text-anchor="start" >A<tspan font-size="7.6" dy="3.3" dx="0.2">1g</tspan></text>
<text x="377.4" y="535.4" font-size="14" fill="#1a14f4" stroke="#1a14f4" text-anchor="start" >E<tspan font-size="7.6" dy="-6.4" dx="0.6">1</tspan><tspan font-size="7.6" dy="10.4" dx="-4.4">2g</tspan></text>
<g clip-path="url(#clipF)">
<path d="M483.8 481.2 L484.6 478.8 L485.3 476.4 L486.1 473.7 L486.8 470.8 L487.6 467.9 L488.3 464.8 L489.1 461.6 L489.8 458.3 L490.6 455.0 L491.3 451.5 L492.1 448.0 L492.8 444.4 L493.6 440.7 L494.3 436.9 L495.1 433.0 L495.8 429.0 L496.6 424.8 L497.3 420.5 L498.1 416.1 L498.8 411.5 L499.6 406.7 L500.3 401.9 L501.1 396.8 L501.8 391.7 L502.6 386.4 L503.3 381.0 L504.1 375.4 L504.8 369.8 L505.6 364.0 L506.3 358.1 L507.1 352.2 L507.8 346.2 L508.6 340.2 L509.3 334.1 L510.1 328.1 L510.8 322.1 L511.6 316.2 L512.3 310.3 L513.0 304.6 L513.8 299.1 L514.5 293.7 L515.3 288.7 L516.0 283.8 L516.8 279.4 L517.5 275.2 L518.3 271.5 L519.0 268.2 L519.8 265.4 L520.5 263.0 L521.3 261.1 L522.0 259.8 L522.8 258.9 L523.5 258.6 L524.3 258.7 L525.0 259.1 L525.8 259.9 L526.5 261.2 L527.3 263.0 L528.0 265.3 L528.8 268.1 L529.5 271.5 L530.3 275.4 L531.0 279.8 L531.8 284.7 L532.5 289.9 L533.3 295.6 L534.0 301.6 L534.8 307.9 L535.5 314.4 L536.3 321.1 L537.0 327.9 L537.8 334.9 L538.5 341.9 L539.3 348.9 L540.0 355.8 L540.8 362.8 L541.5 369.6 L542.3 376.3 L543.0 382.9 L543.8 389.4 L544.5 395.6 L545.3 401.7 L546.0 407.7 L546.8 413.4 L547.5 418.9 L548.3 424.3 L549.0 429.4 L549.8 434.4 L550.5 439.1 L551.3 443.7 L552.0 448.1 L552.8 452.2 L553.5 456.2 L554.3 460.0 L555.0 463.6 L555.8 467.1 L556.5 470.4 L557.3 473.5 L558.0 476.4 L558.8 479.3 L559.5 481.9 L560.3 484.5 L561.0 486.9 L561.8 489.2 L562.5 491.4 L563.3 493.4 L564.0 495.4 L564.8 497.2 L565.5 499.0 L566.3 500.7 L567.0 502.2 L567.8 503.7 L568.5 505.1 L569.3 506.5 L570.0 507.8 L570.8 509.0 L571.5 510.1 L572.3 511.2 L573.0 512.2 L573.8 513.2 L574.5 514.1 L575.3 515.0 L576.0 515.8 L576.8 516.6 L577.5 517.3 L578.3 518.0 L579.0 518.7 L579.8 519.3 L580.5 519.9 L581.3 520.5 L582.0 521.0 L582.8 521.5 L583.5 522.0 L584.3 522.5 L585.0 522.9 L585.8 523.3 L586.5 523.7 L587.3 524.1 L588.0 524.5 L588.8 524.8 L589.5 525.1 L590.3 525.3 L591.0 525.6 L591.8 525.8 L592.5 526.0 L593.3 526.2 L594.0 526.3 L594.8 526.5 L595.5 526.6 L596.3 526.8 L597.0 526.9 L597.8 527.1 L598.5 527.2 L599.3 527.3 L600.0 527.4 L600.8 527.5 L601.5 527.7 L602.3 527.8 L603.0 527.8 L603.8 527.9 L604.5 528.0 L605.3 528.1 L606.0 528.1 L606.8 528.2 L607.5 528.2 L608.3 528.3 L609.0 528.3 L609.8 528.3 L610.5 528.3 L611.3 528.3 L612.0 528.3 L612.8 528.3 L613.5 528.2 L614.3 528.2 L615.0 528.2 L615.8 528.1 L616.5 528.1 L617.3 528.0 L618.0 527.9 L618.8 527.9 L619.5 527.8 L620.3 527.7 L621.0 527.7 L621.8 527.6 L622.5 527.5 L623.3 527.4 L624.0 527.3 L624.8 527.3 L625.5 527.2 L626.3 527.1 L627.0 527.0 L627.8 526.9 L628.5 526.8 L629.3 526.7 L630.0 526.7 L630.8 526.6 L631.5 526.5 L632.3 526.4 L633.0 526.3 L633.8 526.3 L634.5 526.2 L635.3 526.1 L636.0 526.0 L636.8 525.9 L637.5 525.8 L638.3 525.7 L639.0 525.6 L639.8 525.5 L640.5 525.4 L641.3 525.3 L642.0 525.2 L642.8 525.1 L643.5 525.0 L644.3 524.9 L645.0 524.9 L645.8 524.8 L646.5 524.7 L647.3 524.6 L648.0 524.6 L648.8 524.5 L649.5 524.5 L650.3 524.4 L651.0 524.4 L651.8 524.4 L652.5 524.4 L653.3 524.3 L654.0 524.3 L654.8 524.3 L655.5 524.3 L656.3 524.3 L657.0 524.2 L657.8 524.2 L658.5 524.2 L659.3 524.2 L660.0 524.2 L660.8 524.2 L661.5 524.2 L662.3 524.2 L663.0 524.2 L663.8 524.3 L664.5 524.3 L665.3 524.3 L666.0 524.4 L666.8 524.4 L667.5 524.5 L668.3 524.5 L669.0 524.6 L669.8 524.6 L670.5 524.7 L671.3 524.7 L672.0 524.8 L672.8 524.8 L673.5 524.9 L674.3 524.9 L675.0 525.0 L675.8 525.0 L676.5 525.1 L677.3 525.1 L678.0 525.2 L678.8 525.2 L679.5 525.3 L680.3 525.3 L681.0 525.4 L681.8 525.4 L682.5 525.5 L683.3 525.6 L684.0 525.6" fill="none" stroke="#6a0c0c" stroke-width="2.75" stroke-linejoin="round" stroke-linecap="round" />
<path d="M483.8 511.0 L484.6 509.6 L485.3 508.1 L486.1 506.8 L486.8 505.5 L487.6 504.1 L488.3 502.7 L489.1 501.2 L489.8 499.5 L490.6 497.9 L491.3 496.1 L492.1 494.2 L492.8 492.3 L493.6 490.2 L494.3 488.0 L495.1 485.7 L495.8 483.3 L496.6 480.8 L497.3 478.1 L498.1 475.3 L498.8 472.4 L499.6 469.3 L500.3 466.1 L501.1 462.6 L501.8 459.1 L502.6 455.3 L503.3 451.4 L504.1 447.3 L504.8 442.9 L505.6 438.4 L506.3 433.8 L507.1 428.9 L507.8 423.9 L508.6 418.7 L509.3 413.3 L510.1 407.7 L510.8 402.0 L511.6 396.1 L512.3 390.0 L513.0 383.8 L513.8 377.5 L514.5 371.1 L515.3 364.5 L516.0 357.9 L516.8 351.2 L517.5 344.5 L518.3 337.9 L519.0 331.2 L519.8 324.7 L520.5 318.3 L521.3 312.0 L522.0 305.9 L522.8 300.1 L523.5 294.5 L524.3 289.3 L525.0 284.4 L525.8 279.9 L526.5 275.8 L527.3 272.2 L528.0 269.0 L528.8 266.2 L529.5 263.9 L530.3 262.1 L531.0 260.7 L531.8 259.6 L532.5 259.0 L533.3 258.7 L534.0 258.6 L534.8 258.6 L535.5 258.9 L536.3 259.5 L537.0 260.4 L537.8 261.9 L538.5 263.9 L539.3 266.4 L540.0 269.6 L540.8 273.3 L541.5 277.7 L542.3 282.7 L543.0 288.3 L543.8 294.3 L544.5 300.9 L545.3 307.9 L546.0 315.2 L546.8 322.9 L547.5 330.8 L548.3 338.8 L549.0 346.9 L549.8 355.1 L550.5 363.2 L551.3 371.3 L552.0 379.2 L552.8 387.0 L553.5 394.6 L554.3 402.0 L555.0 409.1 L555.8 416.0 L556.5 422.7 L557.3 429.0 L558.0 435.2 L558.8 441.0 L559.5 446.6 L560.3 451.8 L561.0 456.8 L561.8 461.5 L562.5 466.0 L563.3 470.1 L564.0 474.0 L564.8 477.7 L565.5 481.2 L566.3 484.4 L567.0 487.4 L567.8 490.3 L568.5 492.9 L569.3 495.4 L570.0 497.8 L570.8 499.9 L571.5 502.0 L572.3 503.9 L573.0 505.7 L573.8 507.3 L574.5 508.9 L575.3 510.3 L576.0 511.7 L576.8 513.0 L577.5 514.2 L578.3 515.4 L579.0 516.4 L579.8 517.4 L580.5 518.4 L581.3 519.3 L582.0 520.2 L582.8 521.1 L583.5 521.9 L584.3 522.7 L585.0 523.4 L585.8 524.2 L586.5 524.9 L587.3 525.6 L588.0 526.3 L588.8 527.0 L589.5 527.6 L590.3 528.3 L591.0 528.9 L591.8 529.4 L592.5 530.0 L593.3 530.5 L594.0 530.9 L594.8 531.4 L595.5 531.8 L596.3 532.2 L597.0 532.6 L597.8 533.0 L598.5 533.3 L599.3 533.6 L600.0 533.9 L600.8 534.2 L601.5 534.5 L602.3 534.8 L603.0 535.0 L603.8 535.3 L604.5 535.5 L605.3 535.7 L606.0 535.9 L606.8 536.1 L607.5 536.2 L608.3 536.4 L609.0 536.5 L609.8 536.7 L610.5 536.8 L611.3 536.9 L612.0 537.0 L612.8 537.1 L613.5 537.2 L614.3 537.3 L615.0 537.4 L615.8 537.4 L616.5 537.5 L617.3 537.6 L618.0 537.6 L618.8 537.7 L619.5 537.8 L620.3 537.8 L621.0 537.9 L621.8 537.9 L622.5 538.0 L623.3 538.0 L624.0 538.1 L624.8 538.1 L625.5 538.1 L626.3 538.2 L627.0 538.2 L627.8 538.3 L628.5 538.3 L629.3 538.3 L630.0 538.3 L630.8 538.4 L631.5 538.4 L632.3 538.4 L633.0 538.4 L633.8 538.4 L634.5 538.4 L635.3 538.4 L636.0 538.5 L636.8 538.5 L637.5 538.5 L638.3 538.5 L639.0 538.5 L639.8 538.5 L640.5 538.4 L641.3 538.4 L642.0 538.4 L642.8 538.4 L643.5 538.4 L644.3 538.4 L645.0 538.3 L645.8 538.3 L646.5 538.3 L647.3 538.3 L648.0 538.2 L648.8 538.2 L649.5 538.1 L650.3 538.1 L651.0 538.0 L651.8 538.0 L652.5 538.0 L653.3 537.9 L654.0 537.9 L654.8 537.8 L655.5 537.8 L656.3 537.7 L657.0 537.7 L657.8 537.6 L658.5 537.6 L659.3 537.6 L660.0 537.5 L660.8 537.5 L661.5 537.5 L662.3 537.4 L663.0 537.4 L663.8 537.4 L664.5 537.4 L665.3 537.4 L666.0 537.3 L666.8 537.3 L667.5 537.3 L668.3 537.3 L669.0 537.3 L669.8 537.3 L670.5 537.3 L671.3 537.3 L672.0 537.3 L672.8 537.3 L673.5 537.3 L674.3 537.3 L675.0 537.3 L675.8 537.3 L676.5 537.3 L677.3 537.3 L678.0 537.3 L678.8 537.3 L679.5 537.3 L680.3 537.3 L681.0 537.3 L681.8 537.3 L682.5 537.3 L683.3 537.3 L684.0 537.4" fill="none" stroke="#8c1212" stroke-width="2.75" stroke-linejoin="round" stroke-linecap="round" />
<path d="M483.8 525.6 L484.6 525.0 L485.3 524.5 L486.1 524.1 L486.8 523.7 L487.6 523.3 L488.3 522.8 L489.1 522.4 L489.8 521.9 L490.6 521.4 L491.3 520.9 L492.1 520.4 L492.8 519.8 L493.6 519.3 L494.3 518.7 L495.1 518.0 L495.8 517.4 L496.6 516.7 L497.3 516.0 L498.1 515.3 L498.8 514.6 L499.6 513.8 L500.3 513.0 L501.1 512.1 L501.8 511.2 L502.6 510.3 L503.3 509.4 L504.1 508.4 L504.8 507.4 L505.6 506.3 L506.3 505.2 L507.1 504.1 L507.8 502.9 L508.6 501.6 L509.3 500.3 L510.1 499.0 L510.8 497.6 L511.6 496.1 L512.3 494.6 L513.0 493.1 L513.8 491.4 L514.5 489.7 L515.3 488.0 L516.0 486.2 L516.8 484.2 L517.5 482.3 L518.3 480.2 L519.0 478.1 L519.8 475.9 L520.5 473.5 L521.3 471.1 L522.0 468.6 L522.8 466.1 L523.5 463.4 L524.3 460.6 L525.0 457.6 L525.8 454.6 L526.5 451.5 L527.3 448.2 L528.0 444.8 L528.8 441.3 L529.5 437.7 L530.3 433.9 L531.0 430.0 L531.8 425.9 L532.5 421.8 L533.3 417.4 L534.0 413.0 L534.8 408.4 L535.5 403.6 L536.3 398.7 L537.0 393.7 L537.8 388.5 L538.5 383.2 L539.3 377.8 L540.0 372.2 L540.8 366.6 L541.5 360.8 L542.3 354.9 L543.0 349.0 L543.8 343.0 L544.5 337.0 L545.3 331.0 L546.0 325.0 L546.8 319.0 L547.5 313.1 L548.3 307.3 L549.0 301.7 L549.8 296.2 L550.5 290.9 L551.3 286.0 L552.0 281.3 L552.8 276.9 L553.5 273.0 L554.3 269.4 L555.0 266.3 L555.8 263.7 L556.5 261.6 L557.3 260.1 L558.0 259.1 L558.8 258.6 L559.5 258.6 L560.3 259.0 L561.0 259.7 L561.8 261.0 L562.5 262.8 L563.3 265.2 L564.0 268.3 L564.8 271.9 L565.5 276.2 L566.3 281.0 L567.0 286.4 L567.8 292.3 L568.5 298.6 L569.3 305.3 L570.0 312.4 L570.8 319.7 L571.5 327.2 L572.3 334.9 L573.0 342.6 L573.8 350.4 L574.5 358.2 L575.3 365.8 L576.0 373.4 L576.8 380.9 L577.5 388.1 L578.3 395.2 L579.0 402.1 L579.8 408.7 L580.5 415.1 L581.3 421.3 L582.0 427.3 L582.8 433.0 L583.5 438.4 L584.3 443.6 L585.0 448.3 L585.8 452.4 L586.5 456.0 L587.3 459.3 L588.0 462.3 L588.8 465.2 L589.5 468.0 L590.3 470.8 L591.0 473.7 L591.8 476.7 L592.5 479.6 L593.3 482.4 L594.0 485.0 L594.8 487.6 L595.5 489.9 L596.3 492.2 L597.0 494.3 L597.8 496.3 L598.5 498.1 L599.3 499.8 L600.0 501.3 L600.8 502.7 L601.5 504.0 L602.3 505.1 L603.0 506.2 L603.8 507.1 L604.5 508.0 L605.3 508.8 L606.0 509.6 L606.8 510.3 L607.5 511.0 L608.3 511.6 L609.0 512.3 L609.8 512.9 L610.5 513.5 L611.3 514.1 L612.0 514.7 L612.8 515.2 L613.5 515.6 L614.3 516.1 L615.0 516.5 L615.8 516.9 L616.5 517.3 L617.3 517.6 L618.0 517.9 L618.8 518.2 L619.5 518.5 L620.3 518.8 L621.0 519.0 L621.8 519.2 L622.5 519.4 L623.3 519.6 L624.0 519.8 L624.8 519.9 L625.5 520.0 L626.3 520.1 L627.0 520.2 L627.8 520.3 L628.5 520.3 L629.3 520.3 L630.0 520.3 L630.8 520.3 L631.5 520.3 L632.3 520.2 L633.0 520.2 L633.8 520.1 L634.5 520.1 L635.3 520.0 L636.0 519.9 L636.8 519.8 L637.5 519.7 L638.3 519.6 L639.0 519.4 L639.8 519.3 L640.5 519.1 L641.3 519.0 L642.0 518.8 L642.8 518.6 L643.5 518.5 L644.3 518.3 L645.0 518.1 L645.8 517.8 L646.5 517.6 L647.3 517.4 L648.0 517.1 L648.8 516.9 L649.5 516.6 L650.3 516.4 L651.0 516.1 L651.8 515.8 L652.5 515.5 L653.3 515.2 L654.0 514.9 L654.8 514.6 L655.5 514.2 L656.3 513.9 L657.0 513.5 L657.8 513.1 L658.5 512.7 L659.3 512.2 L660.0 511.8 L660.8 511.3 L661.5 510.9 L662.3 510.4 L663.0 510.0 L663.8 509.5 L664.5 509.0 L665.3 508.6 L666.0 508.1 L666.8 507.7 L667.5 507.2 L668.3 506.8 L669.0 506.3 L669.8 505.9 L670.5 505.5 L671.3 505.1 L672.0 504.7 L672.8 504.3 L673.5 503.9 L674.3 503.5 L675.0 503.1 L675.8 502.7 L676.5 502.4 L677.3 502.0 L678.0 501.6 L678.8 501.2 L679.5 500.8 L680.3 500.5 L681.0 500.1 L681.8 499.8 L682.5 499.4 L683.3 499.0 L684.0 499.0" fill="none" stroke="#ff1e14" stroke-width="2.75" stroke-linejoin="round" stroke-linecap="round" />
<path d="M483.8 529.4 L484.6 529.0 L485.3 528.6 L486.1 528.2 L486.8 527.8 L487.6 527.4 L488.3 527.0 L489.1 526.6 L489.8 526.1 L490.6 525.7 L491.3 525.3 L492.1 524.8 L492.8 524.3 L493.6 523.8 L494.3 523.3 L495.1 522.8 L495.8 522.3 L496.6 521.8 L497.3 521.2 L498.1 520.6 L498.8 520.0 L499.6 519.4 L500.3 518.8 L501.1 518.2 L501.8 517.5 L502.6 516.9 L503.3 516.2 L504.1 515.4 L504.8 514.7 L505.6 514.0 L506.3 513.2 L507.1 512.4 L507.8 511.6 L508.6 510.7 L509.3 509.9 L510.1 509.0 L510.8 508.1 L511.6 507.1 L512.3 506.1 L513.0 505.1 L513.8 504.1 L514.5 503.1 L515.3 502.0 L516.0 500.9 L516.8 499.7 L517.5 498.5 L518.3 497.3 L519.0 496.0 L519.8 494.7 L520.5 493.4 L521.3 492.0 L522.0 490.6 L522.8 489.2 L523.5 487.7 L524.3 486.1 L525.0 484.6 L525.8 482.9 L526.5 481.2 L527.3 479.5 L528.0 477.7 L528.8 475.9 L529.5 474.0 L530.3 472.1 L531.0 470.1 L531.8 468.0 L532.5 465.9 L533.3 463.7 L534.0 461.4 L534.8 459.1 L535.5 456.7 L536.3 454.3 L537.0 451.8 L537.8 449.2 L538.5 446.5 L539.3 443.8 L540.0 440.9 L540.8 438.0 L541.5 435.1 L542.3 432.0 L543.0 428.9 L543.8 425.7 L544.5 422.4 L545.3 419.0 L546.0 415.5 L546.8 412.0 L547.5 408.4 L548.3 404.7 L549.0 400.9 L549.8 397.0 L550.5 393.1 L551.3 389.1 L552.0 385.0 L552.8 380.8 L553.5 376.6 L554.3 372.3 L555.0 368.0 L555.8 363.6 L556.5 359.2 L557.3 354.7 L558.0 350.2 L558.8 345.6 L559.5 341.1 L560.3 336.5 L561.0 332.0 L561.8 327.5 L562.5 323.0 L563.3 318.5 L564.0 314.1 L564.8 309.8 L565.5 305.6 L566.3 301.4 L567.0 297.4 L567.8 293.5 L568.5 289.7 L569.3 286.1 L570.0 282.7 L570.8 279.5 L571.5 276.5 L572.3 273.6 L573.0 271.0 L573.8 268.7 L574.5 266.6 L575.3 264.7 L576.0 263.1 L576.8 261.7 L577.5 260.6 L578.3 259.7 L579.0 259.1 L579.8 258.8 L580.5 258.6 L581.3 258.6 L582.0 258.9 L582.8 259.4 L583.5 260.1 L584.3 261.0 L585.0 262.1 L585.8 263.5 L586.5 265.1 L587.3 266.9 L588.0 268.9 L588.8 271.1 L589.5 273.5 L590.3 276.1 L591.0 278.9 L591.8 281.8 L592.5 284.9 L593.3 288.1 L594.0 291.4 L594.8 294.8 L595.5 298.4 L596.3 302.0 L597.0 305.8 L597.8 309.6 L598.5 313.4 L599.3 317.3 L600.0 321.3 L600.8 325.3 L601.5 329.3 L602.3 333.3 L603.0 337.3 L603.8 341.3 L604.5 345.3 L605.3 349.3 L606.0 353.3 L606.8 357.3 L607.5 361.2 L608.3 365.0 L609.0 368.9 L609.8 372.7 L610.5 376.4 L611.3 380.1 L612.0 383.7 L612.8 387.3 L613.5 390.8 L614.3 394.3 L615.0 397.7 L615.8 401.0 L616.5 404.3 L617.3 407.5 L618.0 410.6 L618.8 413.7 L619.5 416.7 L620.3 419.7 L621.0 422.6 L621.8 425.4 L622.5 428.2 L623.3 430.9 L624.0 433.6 L624.8 436.1 L625.5 438.7 L626.3 441.1 L627.0 443.5 L627.8 445.9 L628.5 448.2 L629.3 450.4 L630.0 452.6 L630.8 454.8 L631.5 456.9 L632.3 458.9 L633.0 460.9 L633.8 462.8 L634.5 464.7 L635.3 466.5 L636.0 468.3 L636.8 470.1 L637.5 471.8 L638.3 473.5 L639.0 475.1 L639.8 476.7 L640.5 478.3 L641.3 479.8 L642.0 481.2 L642.8 482.7 L643.5 484.1 L644.3 485.5 L645.0 486.8 L645.8 488.0 L646.5 489.1 L647.3 490.2 L648.0 491.2 L648.8 492.2 L649.5 493.1 L650.3 493.9 L651.0 494.7 L651.8 495.4 L652.5 496.1 L653.3 496.8 L654.0 497.4 L654.8 498.0 L655.5 498.6 L656.3 499.1 L657.0 499.7 L657.8 500.2 L658.5 500.7 L659.3 501.2 L660.0 501.7 L660.8 502.2 L661.5 502.7 L662.3 503.2 L663.0 503.6 L663.8 504.1 L664.5 504.5 L665.3 504.9 L666.0 505.2 L666.8 505.6 L667.5 505.9 L668.3 506.2 L669.0 506.5 L669.8 506.8 L670.5 507.0 L671.3 507.3 L672.0 507.5 L672.8 507.7 L673.5 507.8 L674.3 508.0 L675.0 508.1 L675.8 508.2 L676.5 508.2 L677.3 508.3 L678.0 508.3 L678.8 508.3 L679.5 508.2 L680.3 508.2 L681.0 508.1 L681.8 508.0 L682.5 507.9 L683.3 507.8 L684.0 508.1" fill="none" stroke="#96207c" stroke-width="2.75" stroke-linejoin="round" stroke-linecap="round" />
<path d="M483.8 531.8 L484.6 531.4 L485.3 531.1 L486.1 530.8 L486.8 530.5 L487.6 530.2 L488.3 529.9 L489.1 529.6 L489.8 529.3 L490.6 529.0 L491.3 528.7 L492.1 528.3 L492.8 528.0 L493.6 527.6 L494.3 527.3 L495.1 526.9 L495.8 526.5 L496.6 526.1 L497.3 525.7 L498.1 525.3 L498.8 524.9 L499.6 524.4 L500.3 524.0 L501.1 523.5 L501.8 523.1 L502.6 522.6 L503.3 522.1 L504.1 521.5 L504.8 521.0 L505.6 520.5 L506.3 519.9 L507.1 519.4 L507.8 518.8 L508.6 518.2 L509.3 517.5 L510.1 516.9 L510.8 516.3 L511.6 515.6 L512.3 514.9 L513.0 514.2 L513.8 513.5 L514.5 512.7 L515.3 512.0 L516.0 511.2 L516.8 510.4 L517.5 509.5 L518.3 508.7 L519.0 507.8 L519.8 506.9 L520.5 506.0 L521.3 505.0 L522.0 504.0 L522.8 503.0 L523.5 502.0 L524.3 500.9 L525.0 499.9 L525.8 498.7 L526.5 497.6 L527.3 496.4 L528.0 495.2 L528.8 493.9 L529.5 492.6 L530.3 491.3 L531.0 490.0 L531.8 488.6 L532.5 487.1 L533.3 485.7 L534.0 484.1 L534.8 482.6 L535.5 481.0 L536.3 479.3 L537.0 477.6 L537.8 475.9 L538.5 474.1 L539.3 472.3 L540.0 470.4 L540.8 468.4 L541.5 466.4 L542.3 464.4 L543.0 462.3 L543.8 460.1 L544.5 457.9 L545.3 455.6 L546.0 453.3 L546.8 450.9 L547.5 448.4 L548.3 445.8 L549.0 443.2 L549.8 440.6 L550.5 437.8 L551.3 435.0 L552.0 432.1 L552.8 429.2 L553.5 426.2 L554.3 423.1 L555.0 419.9 L555.8 416.7 L556.5 413.4 L557.3 410.1 L558.0 406.6 L558.8 403.1 L559.5 399.5 L560.3 395.9 L561.0 392.2 L561.8 388.4 L562.5 384.6 L563.3 380.7 L564.0 376.7 L564.8 372.7 L565.5 368.7 L566.3 364.6 L567.0 360.5 L567.8 356.3 L568.5 352.1 L569.3 347.9 L570.0 343.7 L570.8 339.4 L571.5 335.2 L572.3 331.0 L573.0 326.8 L573.8 322.6 L574.5 318.5 L575.3 314.5 L576.0 310.5 L576.8 306.5 L577.5 302.7 L578.3 298.9 L579.0 295.3 L579.8 291.8 L580.5 288.4 L581.3 285.1 L582.0 282.0 L582.8 279.1 L583.5 276.4 L584.3 273.8 L585.0 271.4 L585.8 269.2 L586.5 267.2 L587.3 265.5 L588.0 263.9 L588.8 262.5 L589.5 261.4 L590.3 260.4 L591.0 259.7 L591.8 259.2 L592.5 258.8 L593.3 258.6 L594.0 258.6 L594.8 258.9 L595.5 259.4 L596.3 260.3 L597.0 261.5 L597.8 262.9 L598.5 264.6 L599.3 266.6 L600.0 268.9 L600.8 271.4 L601.5 274.1 L602.3 277.0 L603.0 280.1 L603.8 283.3 L604.5 286.8 L605.3 290.3 L606.0 294.0 L606.8 297.9 L607.5 301.8 L608.3 305.8 L609.0 309.9 L609.8 314.0 L610.5 318.2 L611.3 322.4 L612.0 326.6 L612.8 330.9 L613.5 335.1 L614.3 339.4 L615.0 343.6 L615.8 347.8 L616.5 352.0 L617.3 356.1 L618.0 360.3 L618.8 364.3 L619.5 368.3 L620.3 372.3 L621.0 376.2 L621.8 380.0 L622.5 383.8 L623.3 387.5 L624.0 391.1 L624.8 394.7 L625.5 398.2 L626.3 401.6 L627.0 405.0 L627.8 408.3 L628.5 411.5 L629.3 414.7 L630.0 417.8 L630.8 420.8 L631.5 423.7 L632.3 426.6 L633.0 429.4 L633.8 432.1 L634.5 434.8 L635.3 437.4 L636.0 440.0 L636.8 442.4 L637.5 444.8 L638.3 447.2 L639.0 449.5 L639.8 451.7 L640.5 453.9 L641.3 456.0 L642.0 458.1 L642.8 460.1 L643.5 462.1 L644.3 464.0 L645.0 465.8 L645.8 467.6 L646.5 469.4 L647.3 471.1 L648.0 472.8 L648.8 474.4 L649.5 476.0 L650.3 477.5 L651.0 479.0 L651.8 480.5 L652.5 481.9 L653.3 483.3 L654.0 484.7 L654.8 486.0 L655.5 487.1 L656.3 488.2 L657.0 489.2 L657.8 490.1 L658.5 490.9 L659.3 491.6 L660.0 492.2 L660.8 492.8 L661.5 493.3 L662.3 493.8 L663.0 494.2 L663.8 494.6 L664.5 494.9 L665.3 495.2 L666.0 495.5 L666.8 495.8 L667.5 496.1 L668.3 496.4 L669.0 496.8 L669.8 497.1 L670.5 497.4 L671.3 497.8 L672.0 498.1 L672.8 498.4 L673.5 498.7 L674.3 498.9 L675.0 499.2 L675.8 499.4 L676.5 499.6 L677.3 499.8 L678.0 500.0 L678.8 500.2 L679.5 500.4 L680.3 500.6 L681.0 500.7 L681.8 500.8 L682.5 501.0 L683.3 501.1 L684.0 501.6" fill="none" stroke="#80229a" stroke-width="2.75" stroke-linejoin="round" stroke-linecap="round" />
<path d="M483.8 533.7 L484.6 533.5 L485.3 533.2 L486.1 533.0 L486.8 532.8 L487.6 532.6 L488.3 532.3 L489.1 532.1 L489.8 531.9 L490.6 531.7 L491.3 531.4 L492.1 531.2 L492.8 530.9 L493.6 530.7 L494.3 530.4 L495.1 530.1 L495.8 529.8 L496.6 529.6 L497.3 529.3 L498.1 529.0 L498.8 528.6 L499.6 528.3 L500.3 528.0 L501.1 527.7 L501.8 527.3 L502.6 527.0 L503.3 526.6 L504.1 526.2 L504.8 525.9 L505.6 525.5 L506.3 525.1 L507.1 524.7 L507.8 524.2 L508.6 523.8 L509.3 523.4 L510.1 522.9 L510.8 522.4 L511.6 522.0 L512.3 521.5 L513.0 521.0 L513.8 520.5 L514.5 519.9 L515.3 519.4 L516.0 518.8 L516.8 518.3 L517.5 517.7 L518.3 517.1 L519.0 516.5 L519.8 515.8 L520.5 515.2 L521.3 514.5 L522.0 513.8 L522.8 513.1 L523.5 512.4 L524.3 511.7 L525.0 510.9 L525.8 510.2 L526.5 509.4 L527.3 508.5 L528.0 507.7 L528.8 506.9 L529.5 506.0 L530.3 505.1 L531.0 504.1 L531.8 503.2 L532.5 502.2 L533.3 501.2 L534.0 500.2 L534.8 499.1 L535.5 498.0 L536.3 496.9 L537.0 495.8 L537.8 494.6 L538.5 493.4 L539.3 492.2 L540.0 490.9 L540.8 489.6 L541.5 488.2 L542.3 486.9 L543.0 485.5 L543.8 484.0 L544.5 482.5 L545.3 481.0 L546.0 479.4 L546.8 477.8 L547.5 476.2 L548.3 474.5 L549.0 472.7 L549.8 470.9 L550.5 469.1 L551.3 467.2 L552.0 465.3 L552.8 463.3 L553.5 461.3 L554.3 459.2 L555.0 457.0 L555.8 454.8 L556.5 452.6 L557.3 450.3 L558.0 447.9 L558.8 445.5 L559.5 443.0 L560.3 440.4 L561.0 437.8 L561.8 435.1 L562.5 432.4 L563.3 429.6 L564.0 426.7 L564.8 423.7 L565.5 420.7 L566.3 417.7 L567.0 414.5 L567.8 411.3 L568.5 408.1 L569.3 404.7 L570.0 401.3 L570.8 397.9 L571.5 394.4 L572.3 390.8 L573.0 387.1 L573.8 383.4 L574.5 379.7 L575.3 375.9 L576.0 372.0 L576.8 368.1 L577.5 364.2 L578.3 360.2 L579.0 356.2 L579.8 352.2 L580.5 348.1 L581.3 344.1 L582.0 340.0 L582.8 335.9 L583.5 331.9 L584.3 327.8 L585.0 323.8 L585.8 319.8 L586.5 315.9 L587.3 312.0 L588.0 308.1 L588.8 304.4 L589.5 300.7 L590.3 297.1 L591.0 293.6 L591.8 290.3 L592.5 287.1 L593.3 284.0 L594.0 281.0 L594.8 278.2 L595.5 275.6 L596.3 273.1 L597.0 270.8 L597.8 268.8 L598.5 266.9 L599.3 265.2 L600.0 263.6 L600.8 262.3 L601.5 261.2 L602.3 260.3 L603.0 259.6 L603.8 259.1 L604.5 258.8 L605.3 258.6 L606.0 258.6 L606.8 258.9 L607.5 259.6 L608.3 260.5 L609.0 261.8 L609.8 263.3 L610.5 265.2 L611.3 267.3 L612.0 269.7 L612.8 272.3 L613.5 275.1 L614.3 278.2 L615.0 281.4 L615.8 284.9 L616.5 288.4 L617.3 292.2 L618.0 296.0 L618.8 300.0 L619.5 304.1 L620.3 308.2 L621.0 312.4 L621.8 316.7 L622.5 321.0 L623.3 325.3 L624.0 329.7 L624.8 334.0 L625.5 338.4 L626.3 342.7 L627.0 347.0 L627.8 351.3 L628.5 355.6 L629.3 359.8 L630.0 363.9 L630.8 368.1 L631.5 372.1 L632.3 376.1 L633.0 380.0 L633.8 383.9 L634.5 387.7 L635.3 391.4 L636.0 395.1 L636.8 398.6 L637.5 402.1 L638.3 405.6 L639.0 408.9 L639.8 412.2 L640.5 415.4 L641.3 418.6 L642.0 421.6 L642.8 424.6 L643.5 427.5 L644.3 430.4 L645.0 433.2 L645.8 435.9 L646.5 438.5 L647.3 441.1 L648.0 443.6 L648.8 446.1 L649.5 448.4 L650.3 450.8 L651.0 453.0 L651.8 455.2 L652.5 457.4 L653.3 459.5 L654.0 461.5 L654.8 463.5 L655.5 465.4 L656.3 467.3 L657.0 469.1 L657.8 470.9 L658.5 472.6 L659.3 474.3 L660.0 476.0 L660.8 477.6 L661.5 479.2 L662.3 480.7 L663.0 482.2 L663.8 483.6 L664.5 485.0 L665.3 486.3 L666.0 487.6 L666.8 488.7 L667.5 489.7 L668.3 490.7 L669.0 491.5 L669.8 492.3 L670.5 493.0 L671.3 493.6 L672.0 494.1 L672.8 494.6 L673.5 494.9 L674.3 495.3 L675.0 495.5 L675.8 495.7 L676.5 495.9 L677.3 496.0 L678.0 496.0 L678.8 496.0 L679.5 496.0 L680.3 495.9 L681.0 495.8 L681.8 495.7 L682.5 495.6 L683.3 495.4 L684.0 496.0" fill="none" stroke="#6a22b4" stroke-width="2.75" stroke-linejoin="round" stroke-linecap="round" />
<path d="M483.8 542.2 L484.6 542.0 L485.3 541.9 L486.1 541.8 L486.8 541.6 L487.6 541.5 L488.3 541.4 L489.1 541.2 L489.8 541.1 L490.6 540.9 L491.3 540.8 L492.1 540.6 L492.8 540.5 L493.6 540.3 L494.3 540.2 L495.1 540.0 L495.8 539.9 L496.6 539.7 L497.3 539.5 L498.1 539.3 L498.8 539.2 L499.6 539.0 L500.3 538.8 L501.1 538.6 L501.8 538.4 L502.6 538.2 L503.3 538.0 L504.1 537.8 L504.8 537.6 L505.6 537.4 L506.3 537.2 L507.1 537.0 L507.8 536.8 L508.6 536.5 L509.3 536.3 L510.1 536.1 L510.8 535.8 L511.6 535.6 L512.3 535.3 L513.0 535.0 L513.8 534.8 L514.5 534.5 L515.3 534.2 L516.0 533.9 L516.8 533.6 L517.5 533.3 L518.3 533.0 L519.0 532.7 L519.8 532.4 L520.5 532.1 L521.3 531.7 L522.0 531.4 L522.8 531.0 L523.5 530.7 L524.3 530.3 L525.0 529.9 L525.8 529.5 L526.5 529.1 L527.3 528.7 L528.0 528.3 L528.8 527.9 L529.5 527.5 L530.3 527.1 L531.0 526.6 L531.8 526.2 L532.5 525.8 L533.3 525.3 L534.0 524.9 L534.8 524.4 L535.5 523.9 L536.3 523.4 L537.0 523.0 L537.8 522.5 L538.5 522.0 L539.3 521.4 L540.0 520.9 L540.8 520.3 L541.5 519.8 L542.3 519.2 L543.0 518.6 L543.8 518.0 L544.5 517.3 L545.3 516.7 L546.0 516.0 L546.8 515.3 L547.5 514.6 L548.3 513.8 L549.0 513.1 L549.8 512.3 L550.5 511.4 L551.3 510.6 L552.0 509.7 L552.8 508.7 L553.5 507.8 L554.3 506.8 L555.0 505.8 L555.8 504.7 L556.5 503.6 L557.3 502.5 L558.0 501.3 L558.8 500.0 L559.5 498.7 L560.3 497.4 L561.0 496.0 L561.8 494.6 L562.5 493.1 L563.3 491.6 L564.0 490.0 L564.8 488.3 L565.5 486.6 L566.3 484.8 L567.0 483.0 L567.8 481.0 L568.5 479.0 L569.3 477.0 L570.0 474.8 L570.8 472.6 L571.5 470.3 L572.3 467.9 L573.0 465.5 L573.8 462.9 L574.5 460.3 L575.3 457.5 L576.0 454.7 L576.8 451.8 L577.5 448.7 L578.3 445.6 L579.0 442.4 L579.8 439.1 L580.5 435.6 L581.3 432.1 L582.0 428.5 L582.8 424.8 L583.5 421.0 L584.3 417.1 L585.0 413.1 L585.8 409.1 L586.5 404.9 L587.3 400.6 L588.0 396.3 L588.8 391.8 L589.5 387.3 L590.3 382.7 L591.0 378.1 L591.8 373.4 L592.5 368.6 L593.3 363.8 L594.0 359.0 L594.8 354.1 L595.5 349.2 L596.3 344.3 L597.0 339.5 L597.8 334.6 L598.5 329.8 L599.3 325.0 L600.0 320.3 L600.8 315.7 L601.5 311.2 L602.3 306.8 L603.0 302.5 L603.8 298.3 L604.5 294.4 L605.3 290.5 L606.0 286.9 L606.8 283.5 L607.5 280.3 L608.3 277.2 L609.0 274.5 L609.8 271.9 L610.5 269.6 L611.3 267.5 L612.0 265.7 L612.8 264.1 L613.5 262.7 L614.3 261.5 L615.0 260.6 L615.8 259.9 L616.5 259.3 L617.3 258.9 L618.0 258.7 L618.8 258.6 L619.5 258.6 L620.3 259.1 L621.0 260.0 L621.8 261.4 L622.5 263.3 L623.3 265.5 L624.0 268.1 L624.8 271.0 L625.5 274.2 L626.3 277.6 L627.0 281.3 L627.8 285.2 L628.5 289.3 L629.3 293.6 L630.0 298.0 L630.8 302.5 L631.5 307.1 L632.3 311.8 L633.0 316.5 L633.8 321.3 L634.5 326.1 L635.3 330.9 L636.0 335.7 L636.8 340.5 L637.5 345.2 L638.3 349.9 L639.0 354.6 L639.8 359.2 L640.5 363.7 L641.3 368.1 L642.0 372.5 L642.8 376.8 L643.5 381.1 L644.3 385.2 L645.0 389.2 L645.8 393.2 L646.5 397.1 L647.3 400.9 L648.0 404.6 L648.8 408.2 L649.5 411.7 L650.3 415.1 L651.0 418.5 L651.8 421.7 L652.5 424.9 L653.3 428.0 L654.0 431.0 L654.8 433.9 L655.5 436.8 L656.3 439.5 L657.0 442.2 L657.8 444.8 L658.5 447.4 L659.3 449.8 L660.0 452.2 L660.8 454.6 L661.5 456.8 L662.3 459.0 L663.0 461.2 L663.8 463.3 L664.5 465.3 L665.3 467.3 L666.0 469.2 L666.8 471.0 L667.5 472.8 L668.3 474.6 L669.0 476.3 L669.8 477.9 L670.5 479.6 L671.3 481.1 L672.0 482.7 L672.8 484.1 L673.5 485.6 L674.3 486.9 L675.0 488.0 L675.8 488.9 L676.5 489.8 L677.3 490.5 L678.0 491.1 L678.8 491.6 L679.5 492.0 L680.3 492.3 L681.0 492.6 L681.8 492.8 L682.5 493.0 L683.3 493.2 L684.0 494.1" fill="none" stroke="#4a1ae6" stroke-width="2.75" stroke-linejoin="round" stroke-linecap="round" />
<path d="M483.8 536.8 L484.6 536.7 L485.3 536.6 L486.1 536.6 L486.8 536.5 L487.6 536.4 L488.3 536.3 L489.1 536.2 L489.8 536.1 L490.6 536.0 L491.3 535.9 L492.1 535.8 L492.8 535.7 L493.6 535.6 L494.3 535.5 L495.1 535.4 L495.8 535.3 L496.6 535.2 L497.3 535.1 L498.1 535.0 L498.8 534.9 L499.6 534.7 L500.3 534.6 L501.1 534.5 L501.8 534.4 L502.6 534.3 L503.3 534.1 L504.1 534.0 L504.8 533.9 L505.6 533.8 L506.3 533.6 L507.1 533.5 L507.8 533.4 L508.6 533.2 L509.3 533.1 L510.1 533.0 L510.8 532.8 L511.6 532.7 L512.3 532.5 L513.0 532.4 L513.8 532.2 L514.5 532.1 L515.3 531.9 L516.0 531.7 L516.8 531.6 L517.5 531.4 L518.3 531.2 L519.0 531.0 L519.8 530.9 L520.5 530.7 L521.3 530.5 L522.0 530.3 L522.8 530.1 L523.5 529.9 L524.3 529.7 L525.0 529.5 L525.8 529.2 L526.5 529.0 L527.3 528.8 L528.0 528.6 L528.8 528.4 L529.5 528.1 L530.3 527.9 L531.0 527.7 L531.8 527.5 L532.5 527.3 L533.3 527.1 L534.0 526.9 L534.8 526.7 L535.5 526.5 L536.3 526.3 L537.0 526.1 L537.8 525.9 L538.5 525.7 L539.3 525.5 L540.0 525.2 L540.8 525.0 L541.5 524.8 L542.3 524.6 L543.0 524.4 L543.8 524.1 L544.5 523.9 L545.3 523.7 L546.0 523.4 L546.8 523.1 L547.5 522.9 L548.3 522.6 L549.0 522.3 L549.8 522.0 L550.5 521.7 L551.3 521.4 L552.0 521.1 L552.8 520.8 L553.5 520.4 L554.3 520.1 L555.0 519.7 L555.8 519.3 L556.5 518.9 L557.3 518.5 L558.0 518.1 L558.8 517.6 L559.5 517.2 L560.3 516.7 L561.0 516.2 L561.8 515.6 L562.5 515.1 L563.3 514.5 L564.0 513.9 L564.8 513.3 L565.5 512.6 L566.3 511.9 L567.0 511.2 L567.8 510.5 L568.5 509.7 L569.3 508.9 L570.0 508.1 L570.8 507.2 L571.5 506.3 L572.3 505.4 L573.0 504.4 L573.8 503.4 L574.5 502.3 L575.3 501.2 L576.0 500.0 L576.8 498.8 L577.5 497.6 L578.3 496.3 L579.0 494.9 L579.8 493.5 L580.5 492.1 L581.3 490.5 L582.0 489.0 L582.8 487.3 L583.5 485.6 L584.3 483.8 L585.0 482.0 L585.8 480.0 L586.5 478.0 L587.3 476.0 L588.0 473.8 L588.8 471.6 L589.5 469.2 L590.3 466.8 L591.0 464.3 L591.8 461.7 L592.5 459.0 L593.3 456.3 L594.0 453.4 L594.8 450.4 L595.5 447.3 L596.3 444.1 L597.0 440.8 L597.8 437.4 L598.5 433.8 L599.3 430.2 L600.0 426.5 L600.8 422.6 L601.5 418.7 L602.3 414.6 L603.0 410.4 L603.8 406.2 L604.5 401.8 L605.3 397.3 L606.0 392.8 L606.8 388.1 L607.5 383.3 L608.3 378.5 L609.0 373.6 L609.8 368.6 L610.5 363.5 L611.3 358.4 L612.0 353.3 L612.8 348.1 L613.5 342.9 L614.3 337.7 L615.0 332.6 L615.8 327.4 L616.5 322.3 L617.3 317.3 L618.0 312.4 L618.8 307.6 L619.5 302.9 L620.3 298.3 L621.0 293.9 L621.8 289.8 L622.5 285.8 L623.3 282.0 L624.0 278.5 L624.8 275.3 L625.5 272.3 L626.3 269.6 L627.0 267.2 L627.8 265.2 L628.5 263.4 L629.3 261.9 L630.0 260.7 L630.8 259.8 L631.5 259.1 L632.3 258.8 L633.0 258.6 L633.8 258.7 L634.5 259.1 L635.3 259.8 L636.0 261.0 L636.8 262.5 L637.5 264.4 L638.3 266.6 L639.0 269.1 L639.8 272.0 L640.5 275.1 L641.3 278.6 L642.0 282.2 L642.8 286.1 L643.5 290.2 L644.3 294.4 L645.0 298.9 L645.8 303.4 L646.5 308.1 L647.3 312.9 L648.0 317.7 L648.8 322.6 L649.5 327.5 L650.3 332.5 L651.0 337.4 L651.8 342.4 L652.5 347.3 L653.3 352.2 L654.0 357.0 L654.8 361.8 L655.5 366.5 L656.3 371.2 L657.0 375.8 L657.8 380.3 L658.5 384.7 L659.3 389.1 L660.0 393.3 L660.8 397.5 L661.5 401.5 L662.3 405.5 L663.0 409.3 L663.8 413.1 L664.5 416.8 L665.3 420.4 L666.0 423.9 L666.8 427.2 L667.5 430.5 L668.3 433.8 L669.0 436.9 L669.8 439.9 L670.5 442.7 L671.3 445.4 L672.0 447.9 L672.8 450.3 L673.5 452.6 L674.3 454.7 L675.0 456.7 L675.8 458.6 L676.5 460.4 L677.3 462.0 L678.0 463.6 L678.8 465.0 L679.5 466.4 L680.3 467.6 L681.0 468.8 L681.8 469.8 L682.5 470.8 L683.3 471.7 L684.0 473.3" fill="none" stroke="#1a14f4" stroke-width="2.75" stroke-linejoin="round" stroke-linecap="round" />
</g>
<rect x="484.8" y="229.0" width="198.6" height="331.6" fill="none" stroke="#000" stroke-width="2.1"/>
<path d="M518.0 560.6 v-5.8 M518.0 229.0 v5.8 M583.5 560.6 v-5.8 M583.5 229.0 v5.8 M649.0 560.6 v-5.8 M649.0 229.0 v5.8 M550.7 560.6 v-3 M550.7 229.0 v3 M616.2 560.6 v-3 M616.2 229.0 v3 M484.8 258.8 h6 M683.4 258.8 h-6 M484.8 334.2 h6 M683.4 334.2 h-6 M484.8 409.7 h6 M683.4 409.7 h-6 M484.8 485.2 h6 M683.4 485.2 h-6" stroke="#000" stroke-width="1.8" fill="none"/>
<text x="519.0" y="578.2" font-size="12.6" fill="#1a1a1a" stroke="#1a1a1a" text-anchor="middle" >1.5</text>
<text x="584.2" y="578.2" font-size="12.6" fill="#1a1a1a" stroke="#1a1a1a" text-anchor="middle" >1.6</text>
<text x="650.0" y="578.2" font-size="12.6" fill="#1a1a1a" stroke="#1a1a1a" text-anchor="middle" >1.7</text>
<text x="544.9" y="593.7" font-size="14" fill="#222" stroke="#222" text-anchor="start" >Energy [eV]</text>
<text transform="translate(471.8 398.3) rotate(-90)" font-size="15" fill="#222" stroke="#222" text-anchor="middle">Norm. Intensity [arb. u.]</text>
<text x="462.5" y="243.8" font-size="18" fill="#222" stroke="#222" text-anchor="start" >f)</text>
<rect x="510" y="252.8" width="146" height="2" fill="url(#gArrow)"/>
<path d="M503.8 253.8 L513.4 249.6 L513.4 258 Z" fill="#7a0c0c"/>
<path d="M661.4 253.8 L651.8 249.6 L651.8 258 Z" fill="#1414ff"/>
<text x="488.8" y="247.6" font-size="11.3" fill="#222" stroke="#222" text-anchor="start" ><tspan fill="#7a1010" stroke="#7a1010">Defective </tspan><tspan fill="#ff1e14" stroke="#ff1e14">MoSe</tspan><tspan fill="#ff1e14" stroke="#ff1e14" font-size="6.5" dy="2">2</tspan><tspan dy="-2" fill="#8a2088" stroke="#8a2088"> Janus-Alloys </tspan><tspan fill="#1a14f4" stroke="#1a14f4">MoSSe</tspan></text>
</svg>
</body></html>
